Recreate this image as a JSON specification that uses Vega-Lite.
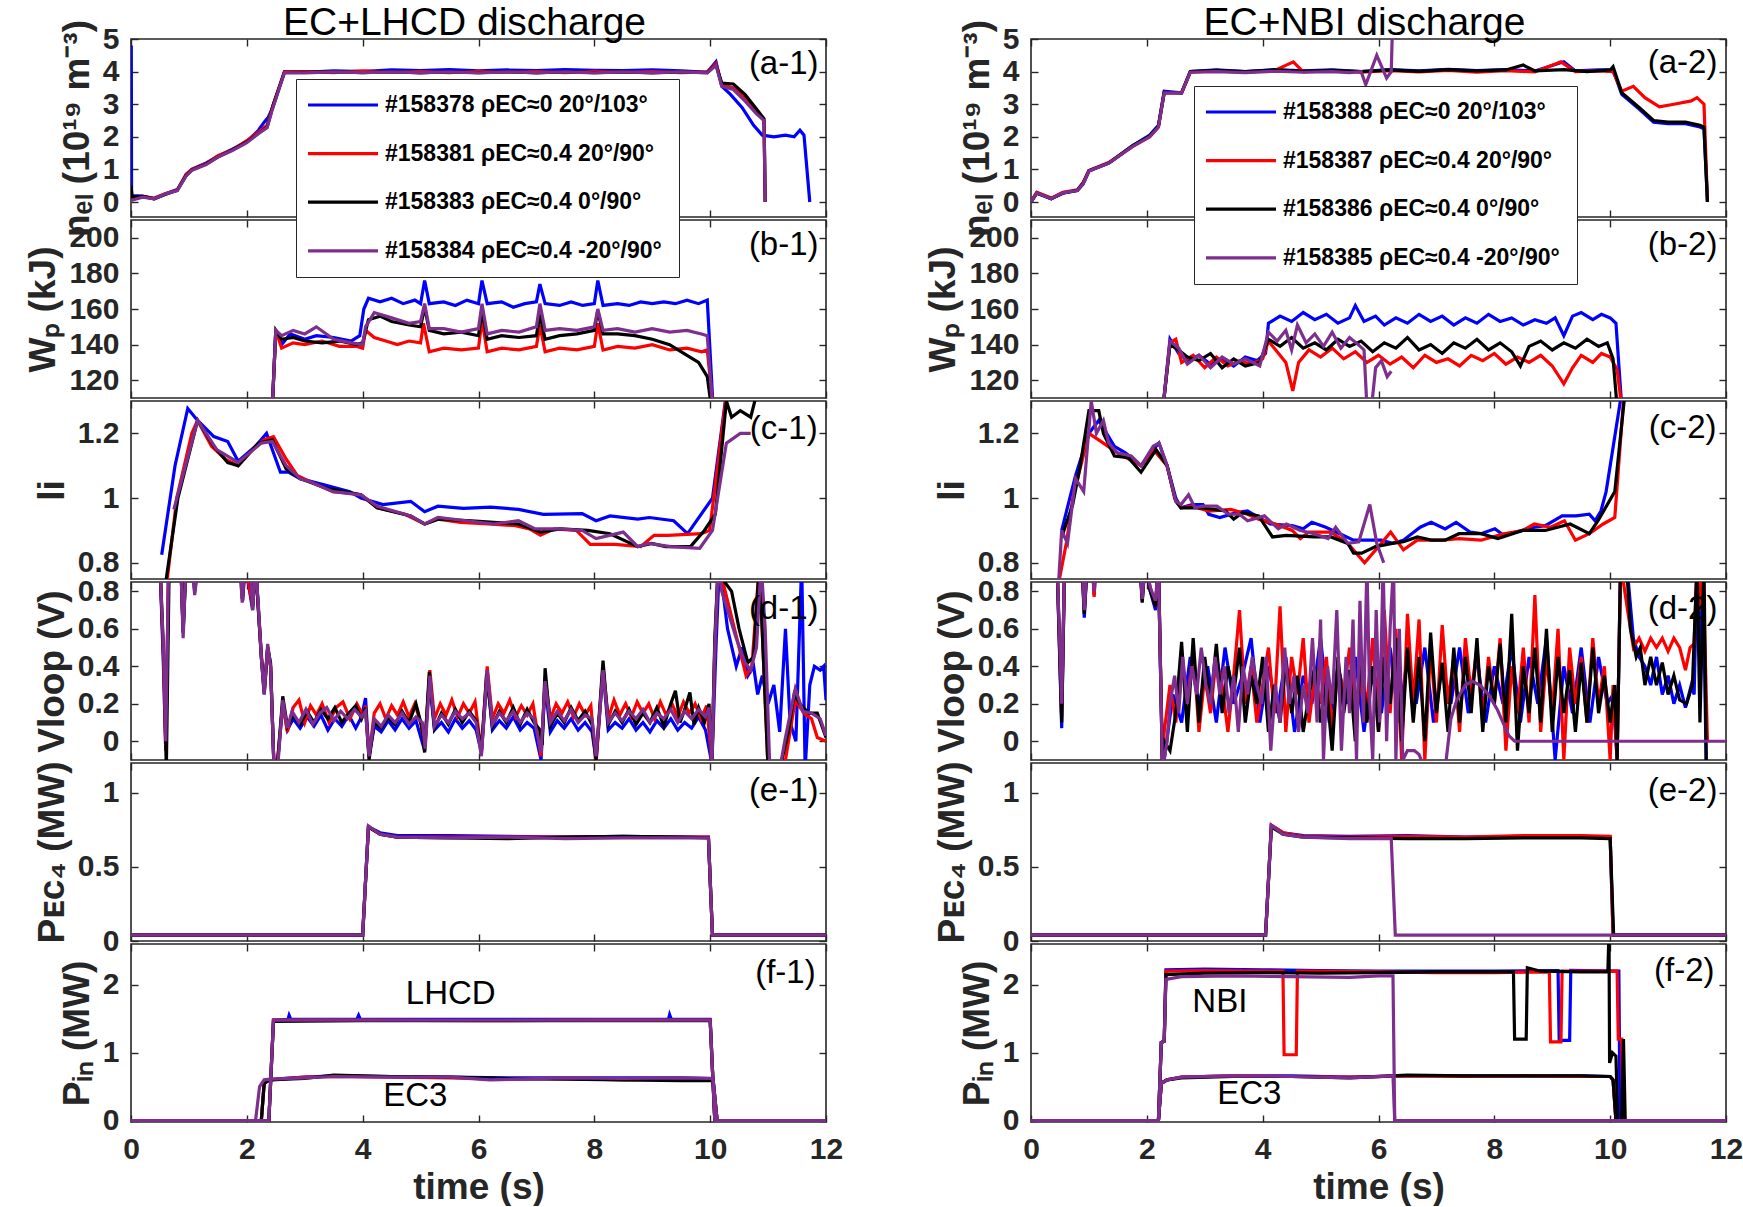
{
"$schema":"https://vega.github.io/schema/vega-lite/v6.json",
"background":"white",
"padding":{"left":24,"top":2,"right":5,"bottom":0},
"datasets":{
"a1":[
{"s":"a","t":0,"v":0.05},{"s":"a","t":0.005,"v":4.8},{"s":"a","t":0.01,"v":0.2},{"s":"a","t":0.2,"v":0.18},{"s":"a","t":0.4,"v":0.1},{"s":"a","t":0.6,"v":0.25},{"s":"a","t":0.8,"v":0.38},{"s":"a","t":0.95,"v":0.8},{"s":"a","t":1.05,"v":1},{"s":"a","t":1.3,"v":1.2},{"s":"a","t":1.5,"v":1.4},{"s":"a","t":1.75,"v":1.62},{"s":"a","t":2,"v":1.85},{"s":"a","t":2.2,"v":2.2},{"s":"a","t":2.3,"v":2.45},{"s":"a","t":2.37,"v":2.6},{"s":"a","t":2.45,"v":2.9},{"s":"a","t":2.65,"v":4},{"s":"a","t":3,"v":3.98},{"s":"a","t":3.5,"v":4.02},{"s":"a","t":4,"v":4},{"s":"a","t":4.5,"v":4.05},{"s":"a","t":5,"v":4.03},{"s":"a","t":5.5,"v":4.06},{"s":"a","t":6,"v":4.02},{"s":"a","t":6.5,"v":4.05},{"s":"a","t":7,"v":4.03},{"s":"a","t":7.5,"v":4.06},{"s":"a","t":8,"v":4.04},{"s":"a","t":8.5,"v":4.03},{"s":"a","t":9,"v":4.05},{"s":"a","t":9.5,"v":4.02},{"s":"a","t":9.95,"v":3.98},{"s":"a","t":10.1,"v":4.3},{"s":"a","t":10.2,"v":3.55},{"s":"a","t":10.35,"v":3.3},{"s":"a","t":10.55,"v":2.9},{"s":"a","t":10.75,"v":2.35},{"s":"a","t":10.9,"v":2.05},{"s":"a","t":11.1,"v":2},{"s":"a","t":11.3,"v":2.05},{"s":"a","t":11.45,"v":2},{"s":"a","t":11.55,"v":2.2},{"s":"a","t":11.62,"v":2.05},{"s":"a","t":11.72,"v":0},
{"s":"b","t":0,"v":0.1},{"s":"b","t":0.2,"v":0.17},{"s":"b","t":0.4,"v":0.12},{"s":"b","t":0.6,"v":0.26},{"s":"b","t":0.8,"v":0.37},{"s":"b","t":0.95,"v":0.85},{"s":"b","t":1.05,"v":1},{"s":"b","t":1.3,"v":1.18},{"s":"b","t":1.5,"v":1.42},{"s":"b","t":1.75,"v":1.6},{"s":"b","t":2,"v":1.88},{"s":"b","t":2.2,"v":2.15},{"s":"b","t":2.35,"v":2.35},{"s":"b","t":2.45,"v":2.95},{"s":"b","t":2.65,"v":4},{"s":"b","t":3,"v":4},{"s":"b","t":3.5,"v":3.97},{"s":"b","t":4,"v":4.02},{"s":"b","t":4.5,"v":3.98},{"s":"b","t":5,"v":4},{"s":"b","t":5.5,"v":3.97},{"s":"b","t":6,"v":4.01},{"s":"b","t":6.5,"v":3.98},{"s":"b","t":7,"v":4},{"s":"b","t":7.5,"v":3.97},{"s":"b","t":8,"v":4.01},{"s":"b","t":8.5,"v":3.98},{"s":"b","t":9,"v":4},{"s":"b","t":9.5,"v":3.97},{"s":"b","t":9.95,"v":3.99},{"s":"b","t":10.1,"v":4.25},{"s":"b","t":10.2,"v":3.6},{"s":"b","t":10.4,"v":3.5},{"s":"b","t":10.6,"v":3.2},{"s":"b","t":10.8,"v":2.8},{"s":"b","t":10.93,"v":2.5},{"s":"b","t":10.95,"v":0},
{"s":"c","t":0,"v":0.5},{"s":"c","t":0.02,"v":0.15},{"s":"c","t":0.2,"v":0.17},{"s":"c","t":0.4,"v":0.1},{"s":"c","t":0.6,"v":0.24},{"s":"c","t":0.8,"v":0.36},{"s":"c","t":0.95,"v":0.82},{"s":"c","t":1.05,"v":0.98},{"s":"c","t":1.3,"v":1.17},{"s":"c","t":1.5,"v":1.38},{"s":"c","t":1.75,"v":1.6},{"s":"c","t":2,"v":1.84},{"s":"c","t":2.2,"v":2.1},{"s":"c","t":2.35,"v":2.3},{"s":"c","t":2.45,"v":2.95},{"s":"c","t":2.65,"v":3.98},{"s":"c","t":3,"v":3.98},{"s":"c","t":3.5,"v":4},{"s":"c","t":4,"v":3.97},{"s":"c","t":4.5,"v":4},{"s":"c","t":5,"v":3.96},{"s":"c","t":5.5,"v":4},{"s":"c","t":6,"v":3.97},{"s":"c","t":6.5,"v":4},{"s":"c","t":7,"v":3.96},{"s":"c","t":7.5,"v":4},{"s":"c","t":8,"v":3.97},{"s":"c","t":8.5,"v":3.99},{"s":"c","t":9,"v":3.96},{"s":"c","t":9.5,"v":3.99},{"s":"c","t":9.95,"v":3.97},{"s":"c","t":10.1,"v":4.2},{"s":"c","t":10.2,"v":3.65},{"s":"c","t":10.4,"v":3.62},{"s":"c","t":10.6,"v":3.3},{"s":"c","t":10.8,"v":2.85},{"s":"c","t":10.93,"v":2.55},{"s":"c","t":10.95,"v":0},
{"s":"d","t":0,"v":0.05},{"s":"d","t":0.2,"v":0.15},{"s":"d","t":0.4,"v":0.1},{"s":"d","t":0.6,"v":0.25},{"s":"d","t":0.8,"v":0.35},{"s":"d","t":0.95,"v":0.8},{"s":"d","t":1.05,"v":0.97},{"s":"d","t":1.3,"v":1.15},{"s":"d","t":1.5,"v":1.38},{"s":"d","t":1.75,"v":1.58},{"s":"d","t":2,"v":1.82},{"s":"d","t":2.2,"v":2.1},{"s":"d","t":2.35,"v":2.28},{"s":"d","t":2.45,"v":2.9},{"s":"d","t":2.65,"v":3.97},{"s":"d","t":3,"v":3.96},{"s":"d","t":3.5,"v":3.99},{"s":"d","t":4,"v":3.97},{"s":"d","t":4.5,"v":3.99},{"s":"d","t":5,"v":3.97},{"s":"d","t":5.5,"v":3.99},{"s":"d","t":6,"v":3.96},{"s":"d","t":6.5,"v":3.99},{"s":"d","t":7,"v":3.97},{"s":"d","t":7.5,"v":3.99},{"s":"d","t":8,"v":3.96},{"s":"d","t":8.5,"v":3.99},{"s":"d","t":9,"v":3.97},{"s":"d","t":9.5,"v":3.99},{"s":"d","t":9.95,"v":3.96},{"s":"d","t":10.1,"v":4.2},{"s":"d","t":10.2,"v":3.55},{"s":"d","t":10.4,"v":3.45},{"s":"d","t":10.6,"v":3.1},{"s":"d","t":10.8,"v":2.7},{"s":"d","t":10.93,"v":2.5},{"s":"d","t":10.95,"v":0}],
"a2":[
{"s":"a","t":0,"v":0},{"s":"a","t":0.1,"v":0.28},{"s":"a","t":0.35,"v":0.1},{"s":"a","t":0.55,"v":0.28},{"s":"a","t":0.8,"v":0.35},{"s":"a","t":0.9,"v":0.55},{"s":"a","t":1,"v":0.95},{"s":"a","t":1.35,"v":1.2},{"s":"a","t":1.75,"v":1.72},{"s":"a","t":2.05,"v":2.05},{"s":"a","t":2.2,"v":2.35},{"s":"a","t":2.3,"v":3.4},{"s":"a","t":2.6,"v":3.35},{"s":"a","t":2.75,"v":4},{"s":"a","t":3.2,"v":4.05},{"s":"a","t":3.7,"v":4},{"s":"a","t":4.2,"v":4.06},{"s":"a","t":4.7,"v":4.02},{"s":"a","t":5.2,"v":4.05},{"s":"a","t":5.7,"v":4},{"s":"a","t":6.2,"v":4.06},{"s":"a","t":6.7,"v":4.02},{"s":"a","t":7.2,"v":4.07},{"s":"a","t":7.7,"v":4.03},{"s":"a","t":8.2,"v":4.06},{"s":"a","t":8.7,"v":4.02},{"s":"a","t":9.2,"v":4.3},{"s":"a","t":9.4,"v":4.02},{"s":"a","t":9.8,"v":4.05},{"s":"a","t":10.05,"v":4.05},{"s":"a","t":10.2,"v":3.3},{"s":"a","t":10.5,"v":2.85},{"s":"a","t":10.75,"v":2.45},{"s":"a","t":11,"v":2.4},{"s":"a","t":11.3,"v":2.4},{"s":"a","t":11.55,"v":2.3},{"s":"a","t":11.62,"v":2.25},{"s":"a","t":11.68,"v":0},
{"s":"b","t":0,"v":0.02},{"s":"b","t":0.1,"v":0.3},{"s":"b","t":0.35,"v":0.12},{"s":"b","t":0.55,"v":0.3},{"s":"b","t":0.8,"v":0.37},{"s":"b","t":0.9,"v":0.6},{"s":"b","t":1,"v":0.97},{"s":"b","t":1.35,"v":1.22},{"s":"b","t":1.75,"v":1.7},{"s":"b","t":2.05,"v":2},{"s":"b","t":2.2,"v":2.3},{"s":"b","t":2.3,"v":3.35},{"s":"b","t":2.6,"v":3.35},{"s":"b","t":2.75,"v":3.98},{"s":"b","t":3.2,"v":4.02},{"s":"b","t":3.7,"v":3.98},{"s":"b","t":4.2,"v":4.03},{"s":"b","t":4.53,"v":4.3},{"s":"b","t":4.7,"v":3.99},{"s":"b","t":5.2,"v":4.03},{"s":"b","t":5.7,"v":3.98},{"s":"b","t":6.2,"v":4.03},{"s":"b","t":6.7,"v":3.99},{"s":"b","t":7.2,"v":4.04},{"s":"b","t":7.7,"v":3.98},{"s":"b","t":8.2,"v":4.03},{"s":"b","t":8.7,"v":3.99},{"s":"b","t":9.15,"v":4.3},{"s":"b","t":9.4,"v":4},{"s":"b","t":9.8,"v":4.02},{"s":"b","t":10.05,"v":4},{"s":"b","t":10.2,"v":3.4},{"s":"b","t":10.4,"v":3.55},{"s":"b","t":10.6,"v":3.2},{"s":"b","t":10.85,"v":2.92},{"s":"b","t":11.1,"v":3},{"s":"b","t":11.4,"v":3.1},{"s":"b","t":11.5,"v":3.2},{"s":"b","t":11.62,"v":3},{"s":"b","t":11.68,"v":0},
{"s":"c","t":0,"v":0},{"s":"c","t":0.1,"v":0.27},{"s":"c","t":0.35,"v":0.1},{"s":"c","t":0.55,"v":0.27},{"s":"c","t":0.8,"v":0.36},{"s":"c","t":0.9,"v":0.58},{"s":"c","t":1,"v":0.96},{"s":"c","t":1.35,"v":1.2},{"s":"c","t":1.75,"v":1.72},{"s":"c","t":2.05,"v":2.02},{"s":"c","t":2.2,"v":2.32},{"s":"c","t":2.3,"v":3.36},{"s":"c","t":2.6,"v":3.35},{"s":"c","t":2.75,"v":4},{"s":"c","t":3.2,"v":4.04},{"s":"c","t":3.7,"v":4},{"s":"c","t":4.2,"v":4.05},{"s":"c","t":4.7,"v":4.01},{"s":"c","t":5.2,"v":4.04},{"s":"c","t":5.7,"v":4},{"s":"c","t":6.2,"v":4.05},{"s":"c","t":6.7,"v":4.01},{"s":"c","t":7.2,"v":4.06},{"s":"c","t":7.7,"v":4.02},{"s":"c","t":8.2,"v":4.05},{"s":"c","t":8.5,"v":4.2},{"s":"c","t":8.7,"v":4.02},{"s":"c","t":9.2,"v":4.06},{"s":"c","t":9.6,"v":4},{"s":"c","t":10,"v":4.05},{"s":"c","t":10.05,"v":4.15},{"s":"c","t":10.2,"v":3.35},{"s":"c","t":10.5,"v":2.9},{"s":"c","t":10.75,"v":2.5},{"s":"c","t":11,"v":2.45},{"s":"c","t":11.3,"v":2.45},{"s":"c","t":11.55,"v":2.35},{"s":"c","t":11.62,"v":2.3},{"s":"c","t":11.68,"v":0},
{"s":"d","t":0,"v":0},{"s":"d","t":0.1,"v":0.28},{"s":"d","t":0.35,"v":0.1},{"s":"d","t":0.55,"v":0.28},{"s":"d","t":0.8,"v":0.35},{"s":"d","t":0.9,"v":0.56},{"s":"d","t":1,"v":0.95},{"s":"d","t":1.35,"v":1.2},{"s":"d","t":1.75,"v":1.7},{"s":"d","t":2.05,"v":2},{"s":"d","t":2.2,"v":2.3},{"s":"d","t":2.3,"v":3.35},{"s":"d","t":2.6,"v":3.35},{"s":"d","t":2.75,"v":3.98},{"s":"d","t":3.2,"v":4},{"s":"d","t":3.7,"v":3.97},{"s":"d","t":4.2,"v":4.01},{"s":"d","t":4.7,"v":3.98},{"s":"d","t":5.2,"v":4},{"s":"d","t":5.5,"v":3.97},{"s":"d","t":5.7,"v":4},{"s":"d","t":5.78,"v":3.6},{"s":"d","t":5.97,"v":4.5},{"s":"d","t":6.14,"v":3.8},{"s":"d","t":6.22,"v":4},{"s":"d","t":6.24,"v":5.3}],
"b1":[
{"s":"a","t":2.44,"v":105},{"s":"a","t":2.5,"v":148},{"s":"a","t":2.6,"v":140},{"s":"a","t":2.75,"v":146},{"s":"a","t":3,"v":143},{"s":"a","t":3.2,"v":145},{"s":"a","t":3.5,"v":144},{"s":"a","t":3.8,"v":142},{"s":"a","t":3.95,"v":145},{"s":"a","t":4.02,"v":160},{"s":"a","t":4.1,"v":166},{"s":"a","t":4.3,"v":164},{"s":"a","t":4.5,"v":166},{"s":"a","t":4.7,"v":163},{"s":"a","t":4.9,"v":165},{"s":"a","t":5,"v":163},{"s":"a","t":5.07,"v":176},{"s":"a","t":5.15,"v":163},{"s":"a","t":5.4,"v":164},{"s":"a","t":5.6,"v":162},{"s":"a","t":5.8,"v":165},{"s":"a","t":6,"v":163},{"s":"a","t":6.06,"v":176},{"s":"a","t":6.15,"v":163},{"s":"a","t":6.4,"v":164},{"s":"a","t":6.6,"v":161},{"s":"a","t":6.8,"v":163},{"s":"a","t":7,"v":164},{"s":"a","t":7.06,"v":174},{"s":"a","t":7.15,"v":163},{"s":"a","t":7.4,"v":162},{"s":"a","t":7.6,"v":164},{"s":"a","t":7.8,"v":162},{"s":"a","t":8,"v":163},{"s":"a","t":8.06,"v":176},{"s":"a","t":8.15,"v":162},{"s":"a","t":8.4,"v":163},{"s":"a","t":8.6,"v":162},{"s":"a","t":8.8,"v":164},{"s":"a","t":9,"v":163},{"s":"a","t":9.2,"v":164},{"s":"a","t":9.4,"v":163},{"s":"a","t":9.6,"v":165},{"s":"a","t":9.8,"v":163},{"s":"a","t":9.95,"v":165},{"s":"a","t":10.05,"v":105},
{"s":"b","t":2.44,"v":105},{"s":"b","t":2.5,"v":148},{"s":"b","t":2.6,"v":138},{"s":"b","t":2.8,"v":141},{"s":"b","t":3,"v":140},{"s":"b","t":3.3,"v":142},{"s":"b","t":3.6,"v":139},{"s":"b","t":3.9,"v":139},{"s":"b","t":4,"v":138},{"s":"b","t":4.05,"v":148},{"s":"b","t":4.2,"v":144},{"s":"b","t":4.4,"v":142},{"s":"b","t":4.6,"v":140},{"s":"b","t":4.8,"v":142},{"s":"b","t":5,"v":141},{"s":"b","t":5.05,"v":152},{"s":"b","t":5.15,"v":136},{"s":"b","t":5.4,"v":138},{"s":"b","t":5.7,"v":137},{"s":"b","t":6,"v":138},{"s":"b","t":6.06,"v":154},{"s":"b","t":6.15,"v":136},{"s":"b","t":6.4,"v":138},{"s":"b","t":6.7,"v":137},{"s":"b","t":7,"v":139},{"s":"b","t":7.06,"v":151},{"s":"b","t":7.15,"v":136},{"s":"b","t":7.4,"v":138},{"s":"b","t":7.7,"v":137},{"s":"b","t":8,"v":139},{"s":"b","t":8.06,"v":152},{"s":"b","t":8.15,"v":137},{"s":"b","t":8.4,"v":139},{"s":"b","t":8.7,"v":138},{"s":"b","t":9,"v":140},{"s":"b","t":9.3,"v":137},{"s":"b","t":9.6,"v":138},{"s":"b","t":9.85,"v":136},{"s":"b","t":9.95,"v":137},{"s":"b","t":10.05,"v":105},
{"s":"c","t":2.44,"v":105},{"s":"c","t":2.5,"v":148},{"s":"c","t":2.6,"v":143},{"s":"c","t":2.8,"v":144},{"s":"c","t":3,"v":142},{"s":"c","t":3.3,"v":141},{"s":"c","t":3.6,"v":142},{"s":"c","t":3.9,"v":140},{"s":"c","t":4,"v":141},{"s":"c","t":4.1,"v":154},{"s":"c","t":4.3,"v":156},{"s":"c","t":4.5,"v":153},{"s":"c","t":4.8,"v":151},{"s":"c","t":5,"v":150},{"s":"c","t":5.07,"v":161},{"s":"c","t":5.15,"v":148},{"s":"c","t":5.4,"v":146},{"s":"c","t":5.7,"v":147},{"s":"c","t":6,"v":145},{"s":"c","t":6.06,"v":159},{"s":"c","t":6.15,"v":143},{"s":"c","t":6.4,"v":145},{"s":"c","t":6.7,"v":144},{"s":"c","t":7,"v":145},{"s":"c","t":7.06,"v":157},{"s":"c","t":7.15,"v":143},{"s":"c","t":7.4,"v":145},{"s":"c","t":7.7,"v":146},{"s":"c","t":8,"v":148},{"s":"c","t":8.06,"v":159},{"s":"c","t":8.15,"v":146},{"s":"c","t":8.4,"v":146},{"s":"c","t":8.7,"v":145},{"s":"c","t":9,"v":143},{"s":"c","t":9.3,"v":140},{"s":"c","t":9.6,"v":134},{"s":"c","t":9.8,"v":130},{"s":"c","t":9.95,"v":122},{"s":"c","t":10.02,"v":105},
{"s":"d","t":2.44,"v":105},{"s":"d","t":2.5,"v":148},{"s":"d","t":2.6,"v":145},{"s":"d","t":2.8,"v":148},{"s":"d","t":3,"v":146},{"s":"d","t":3.2,"v":150},{"s":"d","t":3.5,"v":143},{"s":"d","t":3.8,"v":141},{"s":"d","t":4,"v":140},{"s":"d","t":4.05,"v":150},{"s":"d","t":4.2,"v":158},{"s":"d","t":4.5,"v":155},{"s":"d","t":4.8,"v":152},{"s":"d","t":5,"v":153},{"s":"d","t":5.07,"v":163},{"s":"d","t":5.15,"v":149},{"s":"d","t":5.4,"v":149},{"s":"d","t":5.7,"v":147},{"s":"d","t":6,"v":149},{"s":"d","t":6.06,"v":163},{"s":"d","t":6.15,"v":146},{"s":"d","t":6.4,"v":148},{"s":"d","t":6.7,"v":147},{"s":"d","t":7,"v":150},{"s":"d","t":7.06,"v":163},{"s":"d","t":7.15,"v":148},{"s":"d","t":7.4,"v":149},{"s":"d","t":7.7,"v":148},{"s":"d","t":8,"v":150},{"s":"d","t":8.06,"v":160},{"s":"d","t":8.15,"v":148},{"s":"d","t":8.4,"v":149},{"s":"d","t":8.7,"v":147},{"s":"d","t":9,"v":149},{"s":"d","t":9.3,"v":147},{"s":"d","t":9.6,"v":148},{"s":"d","t":9.85,"v":146},{"s":"d","t":9.95,"v":145},{"s":"d","t":10.04,"v":105}],
"b2":[
{"s":"a","t":2.28,"v":105},{"s":"a","t":2.4,"v":143},{"s":"a","t":2.55,"v":135},{"s":"a","t":2.7,"v":131},{"s":"a","t":2.9,"v":134},{"s":"a","t":3.1,"v":129},{"s":"a","t":3.3,"v":132},{"s":"a","t":3.5,"v":128},{"s":"a","t":3.7,"v":133},{"s":"a","t":3.9,"v":131},{"s":"a","t":4.05,"v":135},{"s":"a","t":4.1,"v":152},{"s":"a","t":4.3,"v":156},{"s":"a","t":4.5,"v":153},{"s":"a","t":4.7,"v":158},{"s":"a","t":4.9,"v":154},{"s":"a","t":5.1,"v":157},{"s":"a","t":5.3,"v":152},{"s":"a","t":5.5,"v":155},{"s":"a","t":5.6,"v":162},{"s":"a","t":5.75,"v":153},{"s":"a","t":5.95,"v":156},{"s":"a","t":6.1,"v":151},{"s":"a","t":6.3,"v":155},{"s":"a","t":6.5,"v":152},{"s":"a","t":6.7,"v":157},{"s":"a","t":6.9,"v":153},{"s":"a","t":7.1,"v":156},{"s":"a","t":7.3,"v":151},{"s":"a","t":7.5,"v":155},{"s":"a","t":7.7,"v":152},{"s":"a","t":7.9,"v":157},{"s":"a","t":8.1,"v":153},{"s":"a","t":8.3,"v":155},{"s":"a","t":8.5,"v":151},{"s":"a","t":8.7,"v":154},{"s":"a","t":8.9,"v":152},{"s":"a","t":9.05,"v":155},{"s":"a","t":9.2,"v":145},{"s":"a","t":9.35,"v":156},{"s":"a","t":9.5,"v":158},{"s":"a","t":9.7,"v":154},{"s":"a","t":9.85,"v":157},{"s":"a","t":10,"v":155},{"s":"a","t":10.1,"v":152},{"s":"a","t":10.2,"v":105},
{"s":"b","t":2.28,"v":105},{"s":"b","t":2.4,"v":141},{"s":"b","t":2.5,"v":143},{"s":"b","t":2.6,"v":130},{"s":"b","t":2.8,"v":134},{"s":"b","t":3,"v":127},{"s":"b","t":3.2,"v":133},{"s":"b","t":3.4,"v":128},{"s":"b","t":3.6,"v":131},{"s":"b","t":3.8,"v":129},{"s":"b","t":4,"v":132},{"s":"b","t":4.1,"v":142},{"s":"b","t":4.25,"v":136},{"s":"b","t":4.4,"v":130},{"s":"b","t":4.52,"v":114},{"s":"b","t":4.62,"v":130},{"s":"b","t":4.8,"v":137},{"s":"b","t":5,"v":133},{"s":"b","t":5.2,"v":138},{"s":"b","t":5.4,"v":132},{"s":"b","t":5.6,"v":136},{"s":"b","t":5.8,"v":130},{"s":"b","t":6,"v":134},{"s":"b","t":6.2,"v":129},{"s":"b","t":6.4,"v":133},{"s":"b","t":6.6,"v":127},{"s":"b","t":6.8,"v":134},{"s":"b","t":7,"v":130},{"s":"b","t":7.2,"v":132},{"s":"b","t":7.4,"v":128},{"s":"b","t":7.6,"v":134},{"s":"b","t":7.8,"v":131},{"s":"b","t":8,"v":135},{"s":"b","t":8.2,"v":129},{"s":"b","t":8.4,"v":133},{"s":"b","t":8.6,"v":130},{"s":"b","t":8.8,"v":134},{"s":"b","t":9,"v":128},{"s":"b","t":9.2,"v":118},{"s":"b","t":9.35,"v":127},{"s":"b","t":9.5,"v":134},{"s":"b","t":9.7,"v":130},{"s":"b","t":9.85,"v":135},{"s":"b","t":10,"v":133},{"s":"b","t":10.12,"v":126},{"s":"b","t":10.2,"v":105},
{"s":"c","t":2.28,"v":105},{"s":"c","t":2.4,"v":140},{"s":"c","t":2.55,"v":137},{"s":"c","t":2.7,"v":133},{"s":"c","t":2.9,"v":131},{"s":"c","t":3.1,"v":135},{"s":"c","t":3.3,"v":127},{"s":"c","t":3.5,"v":132},{"s":"c","t":3.7,"v":128},{"s":"c","t":3.95,"v":130},{"s":"c","t":4.1,"v":143},{"s":"c","t":4.3,"v":139},{"s":"c","t":4.5,"v":144},{"s":"c","t":4.7,"v":138},{"s":"c","t":4.9,"v":141},{"s":"c","t":5.1,"v":137},{"s":"c","t":5.3,"v":143},{"s":"c","t":5.5,"v":139},{"s":"c","t":5.7,"v":142},{"s":"c","t":5.9,"v":136},{"s":"c","t":6.1,"v":141},{"s":"c","t":6.3,"v":138},{"s":"c","t":6.5,"v":144},{"s":"c","t":6.7,"v":137},{"s":"c","t":6.9,"v":140},{"s":"c","t":7.1,"v":135},{"s":"c","t":7.3,"v":141},{"s":"c","t":7.5,"v":138},{"s":"c","t":7.7,"v":143},{"s":"c","t":7.9,"v":137},{"s":"c","t":8.1,"v":141},{"s":"c","t":8.3,"v":136},{"s":"c","t":8.45,"v":128},{"s":"c","t":8.6,"v":139},{"s":"c","t":8.8,"v":142},{"s":"c","t":9,"v":137},{"s":"c","t":9.2,"v":141},{"s":"c","t":9.4,"v":138},{"s":"c","t":9.6,"v":143},{"s":"c","t":9.8,"v":139},{"s":"c","t":9.95,"v":141},{"s":"c","t":10.05,"v":132},{"s":"c","t":10.12,"v":105},
{"s":"d","t":2.28,"v":105},{"s":"d","t":2.4,"v":142},{"s":"d","t":2.55,"v":138},{"s":"d","t":2.7,"v":129},{"s":"d","t":2.9,"v":134},{"s":"d","t":3.1,"v":127},{"s":"d","t":3.3,"v":133},{"s":"d","t":3.5,"v":129},{"s":"d","t":3.7,"v":132},{"s":"d","t":3.95,"v":128},{"s":"d","t":4.1,"v":147},{"s":"d","t":4.25,"v":142},{"s":"d","t":4.4,"v":148},{"s":"d","t":4.5,"v":137},{"s":"d","t":4.6,"v":151},{"s":"d","t":4.75,"v":141},{"s":"d","t":4.9,"v":146},{"s":"d","t":5.05,"v":139},{"s":"d","t":5.2,"v":147},{"s":"d","t":5.35,"v":138},{"s":"d","t":5.5,"v":144},{"s":"d","t":5.65,"v":140},{"s":"d","t":5.75,"v":137},{"s":"d","t":5.8,"v":105},{"s":"d","t":5.88,"v":105},{"s":"d","t":5.95,"v":127},{"s":"d","t":6.05,"v":131},{"s":"d","t":6.15,"v":122},{"s":"d","t":6.22,"v":125}],
"c1":[
{"s":"a","t":0.53,"v":0.825},{"s":"a","t":0.76,"v":1.1},{"s":"a","t":0.98,"v":1.277},{"s":"a","t":1.15,"v":1.24},{"s":"a","t":1.43,"v":1.19},{"s":"a","t":1.67,"v":1.175},{"s":"a","t":1.85,"v":1.114},{"s":"a","t":2.15,"v":1.16},{"s":"a","t":2.34,"v":1.2},{"s":"a","t":2.58,"v":1.08},{"s":"a","t":2.72,"v":1.08},{"s":"a","t":2.92,"v":1.06},{"s":"a","t":3.35,"v":1.04},{"s":"a","t":3.78,"v":1.02},{"s":"a","t":3.97,"v":1},{"s":"a","t":4.35,"v":0.98},{"s":"a","t":4.83,"v":0.99},{"s":"a","t":5.07,"v":0.958},{"s":"a","t":5.3,"v":0.975},{"s":"a","t":5.74,"v":0.968},{"s":"a","t":6.21,"v":0.972},{"s":"a","t":6.69,"v":0.965},{"s":"a","t":7.12,"v":0.95},{"s":"a","t":7.79,"v":0.952},{"s":"a","t":8.03,"v":0.93},{"s":"a","t":8.27,"v":0.945},{"s":"a","t":8.75,"v":0.935},{"s":"a","t":8.95,"v":0.94},{"s":"a","t":9.37,"v":0.93},{"s":"a","t":9.61,"v":0.89},{"s":"a","t":10.04,"v":1},{"s":"a","t":10.3,"v":1.35},
{"s":"b","t":0.62,"v":0.74},{"s":"b","t":0.79,"v":1},{"s":"b","t":1.05,"v":1.2},{"s":"b","t":1.15,"v":1.24},{"s":"b","t":1.39,"v":1.16},{"s":"b","t":1.63,"v":1.12},{"s":"b","t":1.85,"v":1.1},{"s":"b","t":2.1,"v":1.15},{"s":"b","t":2.29,"v":1.18},{"s":"b","t":2.46,"v":1.19},{"s":"b","t":2.68,"v":1.12},{"s":"b","t":2.87,"v":1.07},{"s":"b","t":3.1,"v":1.05},{"s":"b","t":3.49,"v":1.02},{"s":"b","t":3.78,"v":1.015},{"s":"b","t":3.97,"v":1.01},{"s":"b","t":4.25,"v":0.97},{"s":"b","t":4.73,"v":0.95},{"s":"b","t":5.07,"v":0.92},{"s":"b","t":5.3,"v":0.935},{"s":"b","t":5.69,"v":0.925},{"s":"b","t":6.16,"v":0.92},{"s":"b","t":6.64,"v":0.915},{"s":"b","t":6.88,"v":0.905},{"s":"b","t":7.07,"v":0.885},{"s":"b","t":7.31,"v":0.905},{"s":"b","t":7.69,"v":0.9},{"s":"b","t":7.93,"v":0.857},{"s":"b","t":8.36,"v":0.857},{"s":"b","t":8.8,"v":0.85},{"s":"b","t":9.03,"v":0.885},{"s":"b","t":9.27,"v":0.885},{"s":"b","t":9.85,"v":0.89},{"s":"b","t":9.99,"v":0.9},{"s":"b","t":10.13,"v":1.1},{"s":"b","t":10.3,"v":1.35},
{"s":"c","t":0.6,"v":0.74},{"s":"c","t":0.81,"v":1},{"s":"c","t":1.15,"v":1.24},{"s":"c","t":1.43,"v":1.16},{"s":"c","t":1.67,"v":1.11},{"s":"c","t":1.85,"v":1.1},{"s":"c","t":2.2,"v":1.17},{"s":"c","t":2.44,"v":1.18},{"s":"c","t":2.68,"v":1.09},{"s":"c","t":2.92,"v":1.06},{"s":"c","t":3.39,"v":1.03},{"s":"c","t":3.97,"v":1.01},{"s":"c","t":4.25,"v":0.97},{"s":"c","t":4.83,"v":0.945},{"s":"c","t":5.07,"v":0.92},{"s":"c","t":5.3,"v":0.935},{"s":"c","t":5.88,"v":0.93},{"s":"c","t":6.26,"v":0.925},{"s":"c","t":6.69,"v":0.92},{"s":"c","t":7.07,"v":0.895},{"s":"c","t":7.41,"v":0.905},{"s":"c","t":7.89,"v":0.9},{"s":"c","t":8.27,"v":0.89},{"s":"c","t":8.75,"v":0.85},{"s":"c","t":8.99,"v":0.86},{"s":"c","t":9.23,"v":0.85},{"s":"c","t":9.66,"v":0.85},{"s":"c","t":9.9,"v":0.9},{"s":"c","t":10.09,"v":0.95},{"s":"c","t":10.28,"v":1.3},{"s":"c","t":10.37,"v":1.25},{"s":"c","t":10.52,"v":1.27},{"s":"c","t":10.7,"v":1.25},{"s":"c","t":10.8,"v":1.32},
{"s":"d","t":0.74,"v":0.965},{"s":"d","t":1.15,"v":1.24},{"s":"d","t":1.48,"v":1.15},{"s":"d","t":1.85,"v":1.11},{"s":"d","t":2.25,"v":1.17},{"s":"d","t":2.44,"v":1.175},{"s":"d","t":2.68,"v":1.1},{"s":"d","t":2.92,"v":1.06},{"s":"d","t":3.1,"v":1.05},{"s":"d","t":3.49,"v":1.02},{"s":"d","t":3.97,"v":1.01},{"s":"d","t":4.25,"v":0.975},{"s":"d","t":4.83,"v":0.945},{"s":"d","t":5.07,"v":0.92},{"s":"d","t":5.3,"v":0.94},{"s":"d","t":5.79,"v":0.93},{"s":"d","t":6.26,"v":0.92},{"s":"d","t":6.69,"v":0.93},{"s":"d","t":6.98,"v":0.905},{"s":"d","t":7.41,"v":0.905},{"s":"d","t":7.79,"v":0.9},{"s":"d","t":8.03,"v":0.875},{"s":"d","t":8.5,"v":0.895},{"s":"d","t":8.75,"v":0.85},{"s":"d","t":8.94,"v":0.86},{"s":"d","t":9.32,"v":0.85},{"s":"d","t":9.82,"v":0.845},{"s":"d","t":10.04,"v":0.9},{"s":"d","t":10.28,"v":1.17},{"s":"d","t":10.52,"v":1.2},{"s":"d","t":10.7,"v":1.2}],
"c2":[
{"s":"a","t":0.53,"v":0.9},{"s":"a","t":0.67,"v":1},{"s":"a","t":0.77,"v":1.07},{"s":"a","t":1,"v":1.2},{"s":"a","t":1.17,"v":1.24},{"s":"a","t":1.44,"v":1.16},{"s":"a","t":1.63,"v":1.14},{"s":"a","t":1.9,"v":1.1},{"s":"a","t":2.11,"v":1.15},{"s":"a","t":2.21,"v":1.17},{"s":"a","t":2.35,"v":1.1},{"s":"a","t":2.5,"v":1},{"s":"a","t":2.59,"v":0.97},{"s":"a","t":2.78,"v":0.98},{"s":"a","t":2.97,"v":0.98},{"s":"a","t":3.07,"v":0.95},{"s":"a","t":3.26,"v":0.94},{"s":"a","t":3.55,"v":0.955},{"s":"a","t":3.74,"v":0.96},{"s":"a","t":3.84,"v":0.95},{"s":"a","t":4.13,"v":0.92},{"s":"a","t":4.51,"v":0.915},{"s":"a","t":4.7,"v":0.905},{"s":"a","t":4.85,"v":0.925},{"s":"a","t":5.09,"v":0.91},{"s":"a","t":5.33,"v":0.89},{"s":"a","t":5.57,"v":0.87},{"s":"a","t":6.05,"v":0.87},{"s":"a","t":6.24,"v":0.86},{"s":"a","t":6.43,"v":0.87},{"s":"a","t":6.72,"v":0.91},{"s":"a","t":6.91,"v":0.925},{"s":"a","t":7.15,"v":0.905},{"s":"a","t":7.34,"v":0.925},{"s":"a","t":7.58,"v":0.895},{"s":"a","t":7.77,"v":0.89},{"s":"a","t":8.01,"v":0.905},{"s":"a","t":8.16,"v":0.885},{"s":"a","t":8.69,"v":0.91},{"s":"a","t":8.88,"v":0.915},{"s":"a","t":9.17,"v":0.945},{"s":"a","t":9.41,"v":0.945},{"s":"a","t":9.64,"v":0.95},{"s":"a","t":9.74,"v":0.93},{"s":"a","t":9.84,"v":0.96},{"s":"a","t":9.93,"v":1.02},{"s":"a","t":10.22,"v":1.35},
{"s":"b","t":0.48,"v":0.74},{"s":"b","t":0.62,"v":0.87},{"s":"b","t":0.72,"v":1},{"s":"b","t":1,"v":1.2},{"s":"b","t":1.25,"v":1.17},{"s":"b","t":1.49,"v":1.14},{"s":"b","t":1.9,"v":1.1},{"s":"b","t":2.11,"v":1.15},{"s":"b","t":2.35,"v":1.1},{"s":"b","t":2.48,"v":1},{"s":"b","t":2.59,"v":0.97},{"s":"b","t":2.78,"v":0.975},{"s":"b","t":3.07,"v":0.96},{"s":"b","t":3.45,"v":0.965},{"s":"b","t":3.74,"v":0.95},{"s":"b","t":3.93,"v":0.935},{"s":"b","t":4.22,"v":0.92},{"s":"b","t":4.51,"v":0.9},{"s":"b","t":4.65,"v":0.875},{"s":"b","t":4.8,"v":0.895},{"s":"b","t":5.18,"v":0.895},{"s":"b","t":5.47,"v":0.86},{"s":"b","t":5.76,"v":0.8},{"s":"b","t":6,"v":0.85},{"s":"b","t":6.21,"v":0.895},{"s":"b","t":6.43,"v":0.84},{"s":"b","t":6.67,"v":0.87},{"s":"b","t":7.1,"v":0.87},{"s":"b","t":7.39,"v":0.875},{"s":"b","t":7.77,"v":0.87},{"s":"b","t":8.16,"v":0.89},{"s":"b","t":8.49,"v":0.9},{"s":"b","t":8.69,"v":0.92},{"s":"b","t":8.97,"v":0.91},{"s":"b","t":9.21,"v":0.93},{"s":"b","t":9.4,"v":0.87},{"s":"b","t":9.64,"v":0.89},{"s":"b","t":9.88,"v":0.92},{"s":"b","t":10.08,"v":0.94},{"s":"b","t":10.25,"v":1.35},
{"s":"c","t":0.53,"v":0.88},{"s":"c","t":0.72,"v":0.98},{"s":"c","t":0.85,"v":1.1},{"s":"c","t":1,"v":1.27},{"s":"c","t":1.17,"v":1.27},{"s":"c","t":1.25,"v":1.2},{"s":"c","t":1.44,"v":1.13},{"s":"c","t":1.68,"v":1.125},{"s":"c","t":1.9,"v":1.08},{"s":"c","t":2.16,"v":1.15},{"s":"c","t":2.35,"v":1.1},{"s":"c","t":2.5,"v":0.99},{"s":"c","t":2.59,"v":0.97},{"s":"c","t":2.97,"v":0.97},{"s":"c","t":3.36,"v":0.96},{"s":"c","t":3.5,"v":0.935},{"s":"c","t":3.65,"v":0.955},{"s":"c","t":3.93,"v":0.945},{"s":"c","t":4.17,"v":0.88},{"s":"c","t":4.41,"v":0.885},{"s":"c","t":4.89,"v":0.88},{"s":"c","t":5.18,"v":0.88},{"s":"c","t":5.47,"v":0.86},{"s":"c","t":5.57,"v":0.83},{"s":"c","t":5.71,"v":0.83},{"s":"c","t":5.95,"v":0.85},{"s":"c","t":6.24,"v":0.86},{"s":"c","t":6.43,"v":0.865},{"s":"c","t":6.67,"v":0.88},{"s":"c","t":6.91,"v":0.87},{"s":"c","t":7.15,"v":0.87},{"s":"c","t":7.39,"v":0.89},{"s":"c","t":7.77,"v":0.89},{"s":"c","t":8.06,"v":0.875},{"s":"c","t":8.49,"v":0.9},{"s":"c","t":8.88,"v":0.9},{"s":"c","t":9.31,"v":0.92},{"s":"c","t":9.64,"v":0.89},{"s":"c","t":9.79,"v":0.93},{"s":"c","t":10.08,"v":1.02},{"s":"c","t":10.27,"v":1.35},
{"s":"d","t":0.48,"v":0.75},{"s":"d","t":0.53,"v":0.9},{"s":"d","t":0.63,"v":0.86},{"s":"d","t":0.77,"v":1.06},{"s":"d","t":0.91,"v":1.02},{"s":"d","t":1.04,"v":1.3},{"s":"d","t":1.13,"v":1.2},{"s":"d","t":1.25,"v":1.24},{"s":"d","t":1.34,"v":1.17},{"s":"d","t":1.49,"v":1.14},{"s":"d","t":1.73,"v":1.13},{"s":"d","t":1.9,"v":1.1},{"s":"d","t":2.11,"v":1.16},{"s":"d","t":2.21,"v":1.17},{"s":"d","t":2.35,"v":1.1},{"s":"d","t":2.5,"v":0.99},{"s":"d","t":2.59,"v":0.98},{"s":"d","t":2.72,"v":1.01},{"s":"d","t":2.83,"v":0.97},{"s":"d","t":2.97,"v":0.975},{"s":"d","t":3.21,"v":0.975},{"s":"d","t":3.41,"v":0.95},{"s":"d","t":3.6,"v":0.95},{"s":"d","t":3.74,"v":0.93},{"s":"d","t":4.03,"v":0.945},{"s":"d","t":4.27,"v":0.905},{"s":"d","t":4.41,"v":0.92},{"s":"d","t":4.65,"v":0.9},{"s":"d","t":4.89,"v":0.89},{"s":"d","t":5.13,"v":0.875},{"s":"d","t":5.26,"v":0.91},{"s":"d","t":5.47,"v":0.86},{"s":"d","t":5.66,"v":0.865},{"s":"d","t":5.85,"v":0.98},{"s":"d","t":5.97,"v":0.86},{"s":"d","t":6.09,"v":0.8}],
"d1":[
{"s":"a","t":0.5,"v":0.95},{"s":"a","t":0.56,"v":0.4},{"s":"a","t":0.6,"v":-0.05},{"s":"a","t":0.65,"v":0.95},{"s":"a","t":0.86,"v":0.95},{"s":"a","t":0.9,"v":0.58},{"s":"a","t":0.95,"v":0.95},{"s":"a","t":1.9,"v":0.95},{"s":"a","t":1.93,"v":0.75},{"s":"a","t":1.97,"v":0.95},{"s":"a","t":2.1,"v":0.7},{"s":"a","t":2.15,"v":0.95},{"s":"a","t":2.2,"v":0.7},{"s":"a","t":2.25,"v":0.45},{"s":"a","t":2.3,"v":0.25},{"s":"a","t":2.36,"v":0.5},{"s":"a","t":2.41,"v":0.4},{"s":"a","t":2.47,"v":-0.15},{"s":"a","t":2.53,"v":-0.12},{"s":"a","t":2.62,"v":0.2},{"s":"a","t":2.7,"v":0.06},{"s":"a","t":2.8,"v":0.12},{"s":"a","t":2.92,"v":0.07},{"s":"a","t":3.04,"v":0.13},{"s":"a","t":3.16,"v":0.08},{"s":"a","t":3.28,"v":0.14},{"s":"a","t":3.4,"v":0.06},{"s":"a","t":3.52,"v":0.12},{"s":"a","t":3.64,"v":0.08},{"s":"a","t":3.76,"v":0.14},{"s":"a","t":3.88,"v":0.07},{"s":"a","t":3.98,"v":0.13},{"s":"a","t":4.05,"v":0.23},{"s":"a","t":4.11,"v":-0.08},{"s":"a","t":4.2,"v":0.08},{"s":"a","t":4.32,"v":0.05},{"s":"a","t":4.44,"v":0.11},{"s":"a","t":4.56,"v":0.06},{"s":"a","t":4.68,"v":0.12},{"s":"a","t":4.8,"v":0.07},{"s":"a","t":4.92,"v":0.11},{"s":"a","t":5.07,"v":-0.05},{"s":"a","t":5.15,"v":0.33},{"s":"a","t":5.24,"v":0.06},{"s":"a","t":5.36,"v":0.1},{"s":"a","t":5.48,"v":0.05},{"s":"a","t":5.6,"v":0.12},{"s":"a","t":5.72,"v":0.07},{"s":"a","t":5.84,"v":0.11},{"s":"a","t":5.96,"v":0.06},{"s":"a","t":6.05,"v":-0.06},{"s":"a","t":6.15,"v":0.35},{"s":"a","t":6.24,"v":0.06},{"s":"a","t":6.36,"v":0.11},{"s":"a","t":6.48,"v":0.07},{"s":"a","t":6.6,"v":0.13},{"s":"a","t":6.72,"v":0.06},{"s":"a","t":6.84,"v":0.1},{"s":"a","t":6.96,"v":0.07},{"s":"a","t":7.08,"v":-0.1},{"s":"a","t":7.15,"v":0.3},{"s":"a","t":7.24,"v":0.05},{"s":"a","t":7.36,"v":0.11},{"s":"a","t":7.48,"v":0.07},{"s":"a","t":7.6,"v":0.12},{"s":"a","t":7.72,"v":0.06},{"s":"a","t":7.84,"v":0.1},{"s":"a","t":7.96,"v":0.05},{"s":"a","t":8.03,"v":-0.1},{"s":"a","t":8.15,"v":0.38},{"s":"a","t":8.24,"v":0.06},{"s":"a","t":8.36,"v":0.1},{"s":"a","t":8.48,"v":0.07},{"s":"a","t":8.6,"v":0.12},{"s":"a","t":8.72,"v":0.06},{"s":"a","t":8.84,"v":0.1},{"s":"a","t":8.96,"v":0.05},{"s":"a","t":9.08,"v":0.11},{"s":"a","t":9.2,"v":0.07},{"s":"a","t":9.32,"v":0.12},{"s":"a","t":9.44,"v":0.06},{"s":"a","t":9.56,"v":0.1},{"s":"a","t":9.68,"v":0.07},{"s":"a","t":9.8,"v":0.13},{"s":"a","t":9.92,"v":0.06},{"s":"a","t":10.03,"v":-0.12},{"s":"a","t":10.1,"v":0.5},{"s":"a","t":10.16,"v":0.95},{"s":"a","t":10.3,"v":0.6},{"s":"a","t":10.45,"v":0.4},{"s":"a","t":10.55,"v":0.5},{"s":"a","t":10.65,"v":0.35},{"s":"a","t":10.75,"v":0.4},{"s":"a","t":10.82,"v":0.25},{"s":"a","t":10.9,"v":0.35},{"s":"a","t":11,"v":0.2},{"s":"a","t":11.1,"v":0.3},{"s":"a","t":11.2,"v":0.05},{"s":"a","t":11.3,"v":0.6},{"s":"a","t":11.38,"v":0.1},{"s":"a","t":11.48,"v":0},{"s":"a","t":11.58,"v":0.95},{"s":"a","t":11.64,"v":-0.15},{"s":"a","t":11.72,"v":0.3},{"s":"a","t":11.8,"v":0.4},{"s":"a","t":11.9,"v":0.38},{"s":"a","t":11.96,"v":0.4},{"s":"a","t":12,"v":0.22},
{"s":"b","t":0.5,"v":0.95},{"s":"b","t":0.56,"v":0.45},{"s":"b","t":0.6,"v":-0.05},{"s":"b","t":0.65,"v":0.95},{"s":"b","t":0.86,"v":0.95},{"s":"b","t":0.9,"v":0.6},{"s":"b","t":0.95,"v":0.95},{"s":"b","t":1.9,"v":0.95},{"s":"b","t":1.93,"v":0.77},{"s":"b","t":1.97,"v":0.95},{"s":"b","t":2.1,"v":0.72},{"s":"b","t":2.15,"v":0.95},{"s":"b","t":2.2,"v":0.7},{"s":"b","t":2.25,"v":0.47},{"s":"b","t":2.3,"v":0.26},{"s":"b","t":2.36,"v":0.5},{"s":"b","t":2.41,"v":0.4},{"s":"b","t":2.47,"v":-0.15},{"s":"b","t":2.53,"v":-0.1},{"s":"b","t":2.62,"v":0.2},{"s":"b","t":2.7,"v":0.05},{"s":"b","t":2.8,"v":0.18},{"s":"b","t":2.9,"v":0.22},{"s":"b","t":3,"v":0.1},{"s":"b","t":3.1,"v":0.19},{"s":"b","t":3.2,"v":0.14},{"s":"b","t":3.3,"v":0.2},{"s":"b","t":3.42,"v":0.1},{"s":"b","t":3.54,"v":0.18},{"s":"b","t":3.66,"v":0.21},{"s":"b","t":3.78,"v":0.12},{"s":"b","t":3.9,"v":0.2},{"s":"b","t":4,"v":0.14},{"s":"b","t":4.05,"v":0.19},{"s":"b","t":4.11,"v":-0.08},{"s":"b","t":4.2,"v":0.15},{"s":"b","t":4.3,"v":0.2},{"s":"b","t":4.4,"v":0.12},{"s":"b","t":4.5,"v":0.19},{"s":"b","t":4.6,"v":0.14},{"s":"b","t":4.7,"v":0.21},{"s":"b","t":4.8,"v":0.13},{"s":"b","t":4.9,"v":0.2},{"s":"b","t":5,"v":0.1},{"s":"b","t":5.07,"v":-0.03},{"s":"b","t":5.16,"v":0.38},{"s":"b","t":5.24,"v":0.12},{"s":"b","t":5.34,"v":0.2},{"s":"b","t":5.44,"v":0.14},{"s":"b","t":5.54,"v":0.22},{"s":"b","t":5.64,"v":0.13},{"s":"b","t":5.74,"v":0.2},{"s":"b","t":5.84,"v":0.15},{"s":"b","t":5.94,"v":0.21},{"s":"b","t":6.05,"v":-0.06},{"s":"b","t":6.15,"v":0.4},{"s":"b","t":6.24,"v":0.12},{"s":"b","t":6.34,"v":0.2},{"s":"b","t":6.44,"v":0.15},{"s":"b","t":6.54,"v":0.22},{"s":"b","t":6.64,"v":0.13},{"s":"b","t":6.74,"v":0.19},{"s":"b","t":6.84,"v":0.14},{"s":"b","t":6.94,"v":0.2},{"s":"b","t":7.08,"v":-0.08},{"s":"b","t":7.15,"v":0.34},{"s":"b","t":7.24,"v":0.12},{"s":"b","t":7.34,"v":0.2},{"s":"b","t":7.44,"v":0.15},{"s":"b","t":7.54,"v":0.21},{"s":"b","t":7.64,"v":0.13},{"s":"b","t":7.74,"v":0.2},{"s":"b","t":7.84,"v":0.14},{"s":"b","t":7.94,"v":0.19},{"s":"b","t":8.03,"v":-0.12},{"s":"b","t":8.15,"v":0.4},{"s":"b","t":8.24,"v":0.12},{"s":"b","t":8.34,"v":0.22},{"s":"b","t":8.44,"v":0.14},{"s":"b","t":8.54,"v":0.2},{"s":"b","t":8.64,"v":0.13},{"s":"b","t":8.74,"v":0.21},{"s":"b","t":8.84,"v":0.15},{"s":"b","t":8.94,"v":0.2},{"s":"b","t":9.04,"v":0.12},{"s":"b","t":9.14,"v":0.21},{"s":"b","t":9.24,"v":0.14},{"s":"b","t":9.34,"v":0.2},{"s":"b","t":9.44,"v":0.13},{"s":"b","t":9.54,"v":0.21},{"s":"b","t":9.64,"v":0.15},{"s":"b","t":9.74,"v":0.2},{"s":"b","t":9.84,"v":0.12},{"s":"b","t":9.94,"v":0.19},{"s":"b","t":10.03,"v":-0.12},{"s":"b","t":10.08,"v":0.5},{"s":"b","t":10.14,"v":0.95},{"s":"b","t":10.3,"v":0.75},{"s":"b","t":10.5,"v":0.5},{"s":"b","t":10.62,"v":0.35},{"s":"b","t":10.72,"v":0.4},{"s":"b","t":10.85,"v":0.95},{"s":"b","t":11,"v":-0.15},{"s":"b","t":11.3,"v":-0.1},{"s":"b","t":11.47,"v":0.22},{"s":"b","t":11.62,"v":0.15},{"s":"b","t":11.75,"v":0.12},{"s":"b","t":11.85,"v":0.02},{"s":"b","t":12,"v":0},
{"s":"c","t":0.5,"v":0.95},{"s":"c","t":0.57,"v":0.4},{"s":"c","t":0.61,"v":-0.15},{"s":"c","t":0.66,"v":0.95},{"s":"c","t":0.86,"v":0.95},{"s":"c","t":0.9,"v":0.58},{"s":"c","t":0.95,"v":0.95},{"s":"c","t":1.05,"v":0.95},{"s":"c","t":1.1,"v":0.8},{"s":"c","t":1.16,"v":0.95},{"s":"c","t":1.88,"v":0.95},{"s":"c","t":1.92,"v":0.76},{"s":"c","t":1.97,"v":0.95},{"s":"c","t":2.05,"v":0.95},{"s":"c","t":2.1,"v":0.72},{"s":"c","t":2.15,"v":0.95},{"s":"c","t":2.2,"v":0.7},{"s":"c","t":2.25,"v":0.45},{"s":"c","t":2.3,"v":0.27},{"s":"c","t":2.36,"v":0.5},{"s":"c","t":2.41,"v":0.42},{"s":"c","t":2.47,"v":-0.15},{"s":"c","t":2.53,"v":-0.12},{"s":"c","t":2.62,"v":0.24},{"s":"c","t":2.7,"v":0.08},{"s":"c","t":2.8,"v":0.14},{"s":"c","t":2.92,"v":0.09},{"s":"c","t":3.04,"v":0.16},{"s":"c","t":3.16,"v":0.1},{"s":"c","t":3.28,"v":0.17},{"s":"c","t":3.4,"v":0.12},{"s":"c","t":3.52,"v":0.18},{"s":"c","t":3.64,"v":0.1},{"s":"c","t":3.76,"v":0.15},{"s":"c","t":3.88,"v":0.19},{"s":"c","t":3.98,"v":0.12},{"s":"c","t":4.05,"v":0.18},{"s":"c","t":4.11,"v":-0.1},{"s":"c","t":4.2,"v":0.1},{"s":"c","t":4.32,"v":0.07},{"s":"c","t":4.44,"v":0.13},{"s":"c","t":4.56,"v":0.09},{"s":"c","t":4.68,"v":0.16},{"s":"c","t":4.8,"v":0.1},{"s":"c","t":4.92,"v":0.2},{"s":"c","t":5.02,"v":0.08},{"s":"c","t":5.07,"v":-0.06},{"s":"c","t":5.15,"v":0.37},{"s":"c","t":5.24,"v":0.07},{"s":"c","t":5.36,"v":0.15},{"s":"c","t":5.48,"v":0.09},{"s":"c","t":5.6,"v":0.17},{"s":"c","t":5.72,"v":0.1},{"s":"c","t":5.84,"v":0.16},{"s":"c","t":5.96,"v":0.11},{"s":"c","t":6.05,"v":-0.05},{"s":"c","t":6.14,"v":0.36},{"s":"c","t":6.24,"v":0.08},{"s":"c","t":6.36,"v":0.16},{"s":"c","t":6.48,"v":0.1},{"s":"c","t":6.6,"v":0.18},{"s":"c","t":6.72,"v":0.09},{"s":"c","t":6.84,"v":0.17},{"s":"c","t":6.96,"v":0.1},{"s":"c","t":7.06,"v":0.06},{"s":"c","t":7.1,"v":-0.02},{"s":"c","t":7.15,"v":0.39},{"s":"c","t":7.24,"v":0.08},{"s":"c","t":7.36,"v":0.15},{"s":"c","t":7.48,"v":0.1},{"s":"c","t":7.6,"v":0.18},{"s":"c","t":7.72,"v":0.11},{"s":"c","t":7.84,"v":0.16},{"s":"c","t":7.96,"v":0.09},{"s":"c","t":8.03,"v":-0.1},{"s":"c","t":8.15,"v":0.43},{"s":"c","t":8.24,"v":0.09},{"s":"c","t":8.36,"v":0.16},{"s":"c","t":8.48,"v":0.1},{"s":"c","t":8.6,"v":0.17},{"s":"c","t":8.72,"v":0.09},{"s":"c","t":8.84,"v":0.15},{"s":"c","t":8.96,"v":0.1},{"s":"c","t":9.08,"v":0.18},{"s":"c","t":9.2,"v":0.08},{"s":"c","t":9.32,"v":0.2},{"s":"c","t":9.4,"v":0.27},{"s":"c","t":9.48,"v":0.1},{"s":"c","t":9.56,"v":0.17},{"s":"c","t":9.65,"v":0.26},{"s":"c","t":9.72,"v":0.09},{"s":"c","t":9.8,"v":0.18},{"s":"c","t":9.9,"v":0.1},{"s":"c","t":9.98,"v":0.2},{"s":"c","t":10.03,"v":-0.12},{"s":"c","t":10.08,"v":0.55},{"s":"c","t":10.14,"v":0.95},{"s":"c","t":10.25,"v":0.85},{"s":"c","t":10.37,"v":0.8},{"s":"c","t":10.5,"v":0.6},{"s":"c","t":10.65,"v":0.42},{"s":"c","t":10.75,"v":0.45},{"s":"c","t":10.85,"v":0.95},{"s":"c","t":11,"v":-0.15},{"s":"c","t":11.2,"v":-0.15},{"s":"c","t":11.35,"v":0.05},{"s":"c","t":11.45,"v":0.25},{"s":"c","t":11.55,"v":0.2},{"s":"c","t":11.7,"v":0.15},{"s":"c","t":11.85,"v":0.15},{"s":"c","t":12,"v":0.02},
{"s":"d","t":0.5,"v":0.95},{"s":"d","t":0.56,"v":0.5},{"s":"d","t":0.6,"v":0},{"s":"d","t":0.65,"v":0.95},{"s":"d","t":0.86,"v":0.95},{"s":"d","t":0.9,"v":0.55},{"s":"d","t":0.95,"v":0.95},{"s":"d","t":1.05,"v":0.95},{"s":"d","t":1.1,"v":0.78},{"s":"d","t":1.16,"v":0.95},{"s":"d","t":1.88,"v":0.95},{"s":"d","t":1.92,"v":0.74},{"s":"d","t":1.97,"v":0.95},{"s":"d","t":2.05,"v":0.95},{"s":"d","t":2.1,"v":0.7},{"s":"d","t":2.15,"v":0.95},{"s":"d","t":2.2,"v":0.72},{"s":"d","t":2.25,"v":0.45},{"s":"d","t":2.3,"v":0.25},{"s":"d","t":2.36,"v":0.52},{"s":"d","t":2.41,"v":0.4},{"s":"d","t":2.47,"v":-0.15},{"s":"d","t":2.53,"v":-0.15},{"s":"d","t":2.62,"v":0.22},{"s":"d","t":2.7,"v":0.07},{"s":"d","t":2.78,"v":0.16},{"s":"d","t":2.9,"v":0.1},{"s":"d","t":3.02,"v":0.17},{"s":"d","t":3.14,"v":0.09},{"s":"d","t":3.26,"v":0.15},{"s":"d","t":3.38,"v":0.18},{"s":"d","t":3.5,"v":0.11},{"s":"d","t":3.62,"v":0.16},{"s":"d","t":3.74,"v":0.12},{"s":"d","t":3.86,"v":0.17},{"s":"d","t":3.98,"v":0.13},{"s":"d","t":4.05,"v":0.16},{"s":"d","t":4.11,"v":-0.08},{"s":"d","t":4.2,"v":0.12},{"s":"d","t":4.32,"v":0.08},{"s":"d","t":4.44,"v":0.14},{"s":"d","t":4.56,"v":0.1},{"s":"d","t":4.68,"v":0.15},{"s":"d","t":4.8,"v":0.09},{"s":"d","t":4.92,"v":0.13},{"s":"d","t":5.03,"v":0.1},{"s":"d","t":5.08,"v":-0.04},{"s":"d","t":5.16,"v":0.35},{"s":"d","t":5.24,"v":0.08},{"s":"d","t":5.36,"v":0.14},{"s":"d","t":5.48,"v":0.1},{"s":"d","t":5.6,"v":0.16},{"s":"d","t":5.72,"v":0.12},{"s":"d","t":5.84,"v":0.15},{"s":"d","t":5.96,"v":0.1},{"s":"d","t":6.05,"v":-0.08},{"s":"d","t":6.15,"v":0.38},{"s":"d","t":6.24,"v":0.09},{"s":"d","t":6.36,"v":0.15},{"s":"d","t":6.48,"v":0.11},{"s":"d","t":6.6,"v":0.16},{"s":"d","t":6.72,"v":0.1},{"s":"d","t":6.84,"v":0.15},{"s":"d","t":6.96,"v":0.12},{"s":"d","t":7.08,"v":-0.06},{"s":"d","t":7.15,"v":0.32},{"s":"d","t":7.24,"v":0.1},{"s":"d","t":7.36,"v":0.16},{"s":"d","t":7.48,"v":0.11},{"s":"d","t":7.6,"v":0.17},{"s":"d","t":7.72,"v":0.1},{"s":"d","t":7.84,"v":0.14},{"s":"d","t":7.96,"v":0.12},{"s":"d","t":8.03,"v":-0.08},{"s":"d","t":8.15,"v":0.38},{"s":"d","t":8.24,"v":0.1},{"s":"d","t":8.36,"v":0.15},{"s":"d","t":8.48,"v":0.11},{"s":"d","t":8.6,"v":0.16},{"s":"d","t":8.72,"v":0.12},{"s":"d","t":8.84,"v":0.17},{"s":"d","t":8.96,"v":0.1},{"s":"d","t":9.08,"v":0.15},{"s":"d","t":9.2,"v":0.12},{"s":"d","t":9.32,"v":0.17},{"s":"d","t":9.44,"v":0.1},{"s":"d","t":9.56,"v":0.16},{"s":"d","t":9.68,"v":0.12},{"s":"d","t":9.8,"v":0.17},{"s":"d","t":9.92,"v":0.13},{"s":"d","t":9.98,"v":0.18},{"s":"d","t":10.03,"v":-0.12},{"s":"d","t":10.08,"v":0.5},{"s":"d","t":10.14,"v":0.95},{"s":"d","t":10.2,"v":0.8},{"s":"d","t":10.3,"v":0.7},{"s":"d","t":10.45,"v":0.55},{"s":"d","t":10.6,"v":0.42},{"s":"d","t":10.7,"v":0.38},{"s":"d","t":10.8,"v":0.5},{"s":"d","t":10.88,"v":0.95},{"s":"d","t":10.95,"v":0.6},{"s":"d","t":11.03,"v":-0.15},{"s":"d","t":11.2,"v":-0.15},{"s":"d","t":11.3,"v":0.02},{"s":"d","t":11.47,"v":0.28},{"s":"d","t":11.6,"v":0.16},{"s":"d","t":11.75,"v":0.15},{"s":"d","t":11.9,"v":0.12},{"s":"d","t":12,"v":0.03}],
"d2":[
{"s":"a","t":0.45,"v":0.95},{"s":"a","t":0.53,"v":0.07},{"s":"a","t":0.58,"v":0.95},{"s":"a","t":0.88,"v":0.95},{"s":"a","t":0.92,"v":0.66},{"s":"a","t":0.97,"v":0.95},{"s":"a","t":1.06,"v":0.95},{"s":"a","t":1.09,"v":0.78},{"s":"a","t":1.12,"v":0.95},{"s":"a","t":1.88,"v":0.95},{"s":"a","t":1.92,"v":0.75},{"s":"a","t":1.97,"v":0.95},{"s":"a","t":2.06,"v":0.8},{"s":"a","t":2.15,"v":0.7},{"s":"a","t":2.2,"v":0.95},{"s":"a","t":2.27,"v":-0.15},{"s":"a","t":2.3,"v":-0.1},{"s":"a","t":2.45,"v":0.25},{"s":"a","t":2.6,"v":0.1},{"s":"a","t":2.75,"v":0.45},{"s":"a","t":2.9,"v":0.2},{"s":"a","t":3.05,"v":0.4},{"s":"a","t":3.2,"v":0.1},{"s":"a","t":3.35,"v":0.5},{"s":"a","t":3.5,"v":0.2},{"s":"a","t":3.65,"v":0.35},{"s":"a","t":3.8,"v":0.55},{"s":"a","t":3.95,"v":0.1},{"s":"a","t":4.1,"v":0.4},{"s":"a","t":4.25,"v":0.15},{"s":"a","t":4.4,"v":0.45},{"s":"a","t":4.55,"v":0.05},{"s":"a","t":4.7,"v":0.35},{"s":"a","t":4.85,"v":0.2},{"s":"a","t":5,"v":0.55},{"s":"a","t":5.15,"v":0.1},{"s":"a","t":5.3,"v":0.4},{"s":"a","t":5.45,"v":0.2},{"s":"a","t":5.6,"v":0.45},{"s":"a","t":5.75,"v":0.05},{"s":"a","t":5.9,"v":0.4},{"s":"a","t":6.05,"v":0.15},{"s":"a","t":6.2,"v":0.5},{"s":"a","t":6.35,"v":0.1},{"s":"a","t":6.5,"v":0.45},{"s":"a","t":6.65,"v":0.2},{"s":"a","t":6.8,"v":0.5},{"s":"a","t":6.95,"v":0.1},{"s":"a","t":7.1,"v":0.4},{"s":"a","t":7.25,"v":0.2},{"s":"a","t":7.4,"v":0.5},{"s":"a","t":7.55,"v":0.15},{"s":"a","t":7.7,"v":0.45},{"s":"a","t":7.85,"v":0.1},{"s":"a","t":8,"v":0.4},{"s":"a","t":8.15,"v":0.2},{"s":"a","t":8.3,"v":0.5},{"s":"a","t":8.45,"v":0.1},{"s":"a","t":8.6,"v":0.45},{"s":"a","t":8.75,"v":0.2},{"s":"a","t":8.9,"v":0.55},{"s":"a","t":9.05,"v":-0.1},{"s":"a","t":9.2,"v":0.4},{"s":"a","t":9.35,"v":0.15},{"s":"a","t":9.5,"v":0.5},{"s":"a","t":9.65,"v":0.1},{"s":"a","t":9.8,"v":0.45},{"s":"a","t":9.95,"v":0.2},{"s":"a","t":10.05,"v":0.25},{"s":"a","t":10.12,"v":-0.1},{"s":"a","t":10.18,"v":0.95},{"s":"a","t":10.3,"v":0.9},{"s":"a","t":10.4,"v":0.55},{"s":"a","t":10.5,"v":0.45},{"s":"a","t":10.6,"v":0.4},{"s":"a","t":10.7,"v":0.3},{"s":"a","t":10.8,"v":0.45},{"s":"a","t":10.9,"v":0.25},{"s":"a","t":11,"v":0.35},{"s":"a","t":11.1,"v":0.2},{"s":"a","t":11.2,"v":0.3},{"s":"a","t":11.3,"v":0.18},{"s":"a","t":11.4,"v":0.3},{"s":"a","t":11.45,"v":0.25},{"s":"a","t":11.5,"v":0.95},{"s":"a","t":11.55,"v":0.5},{"s":"a","t":11.6,"v":0.95},{"s":"a","t":11.66,"v":-0.15},
{"s":"b","t":0.45,"v":0.95},{"s":"b","t":0.53,"v":0.13},{"s":"b","t":0.58,"v":0.95},{"s":"b","t":0.88,"v":0.95},{"s":"b","t":0.92,"v":0.7},{"s":"b","t":0.97,"v":0.95},{"s":"b","t":1.06,"v":0.95},{"s":"b","t":1.09,"v":0.77},{"s":"b","t":1.12,"v":0.95},{"s":"b","t":1.88,"v":0.95},{"s":"b","t":1.92,"v":0.78},{"s":"b","t":1.97,"v":0.95},{"s":"b","t":2.06,"v":0.82},{"s":"b","t":2.15,"v":0.72},{"s":"b","t":2.2,"v":0.95},{"s":"b","t":2.27,"v":-0.1},{"s":"b","t":2.3,"v":0.05},{"s":"b","t":2.4,"v":0.3},{"s":"b","t":2.5,"v":0.1},{"s":"b","t":2.6,"v":0.45},{"s":"b","t":2.7,"v":0.2},{"s":"b","t":2.8,"v":0.5},{"s":"b","t":2.9,"v":0.05},{"s":"b","t":3,"v":0.35},{"s":"b","t":3.1,"v":0.15},{"s":"b","t":3.2,"v":0.45},{"s":"b","t":3.3,"v":0.3},{"s":"b","t":3.4,"v":0.05},{"s":"b","t":3.5,"v":0.35},{"s":"b","t":3.6,"v":0.7},{"s":"b","t":3.7,"v":0.2},{"s":"b","t":3.8,"v":0.4},{"s":"b","t":3.9,"v":0.1},{"s":"b","t":4,"v":0.3},{"s":"b","t":4.1,"v":0.5},{"s":"b","t":4.2,"v":0.15},{"s":"b","t":4.3,"v":0.72},{"s":"b","t":4.4,"v":0.05},{"s":"b","t":4.5,"v":0.45},{"s":"b","t":4.6,"v":0.25},{"s":"b","t":4.7,"v":0.55},{"s":"b","t":4.8,"v":0.1},{"s":"b","t":4.9,"v":0.35},{"s":"b","t":5,"v":0.2},{"s":"b","t":5.1,"v":0.45},{"s":"b","t":5.2,"v":0.05},{"s":"b","t":5.3,"v":0.4},{"s":"b","t":5.4,"v":0.25},{"s":"b","t":5.5,"v":0.5},{"s":"b","t":5.6,"v":0.1},{"s":"b","t":5.7,"v":0.35},{"s":"b","t":5.8,"v":0.2},{"s":"b","t":5.9,"v":0.55},{"s":"b","t":6,"v":0.05},{"s":"b","t":6.1,"v":0.7},{"s":"b","t":6.2,"v":0.15},{"s":"b","t":6.3,"v":0.6},{"s":"b","t":6.4,"v":-0.1},{"s":"b","t":6.5,"v":0.68},{"s":"b","t":6.6,"v":0.2},{"s":"b","t":6.7,"v":0.65},{"s":"b","t":6.8,"v":-0.1},{"s":"b","t":6.9,"v":0.5},{"s":"b","t":7,"v":0.1},{"s":"b","t":7.1,"v":0.62},{"s":"b","t":7.2,"v":0.2},{"s":"b","t":7.3,"v":0.45},{"s":"b","t":7.4,"v":0.05},{"s":"b","t":7.5,"v":0.55},{"s":"b","t":7.6,"v":0.25},{"s":"b","t":7.7,"v":0.5},{"s":"b","t":7.8,"v":0.1},{"s":"b","t":7.9,"v":0.45},{"s":"b","t":8,"v":0.2},{"s":"b","t":8.1,"v":0.55},{"s":"b","t":8.2,"v":-0.05},{"s":"b","t":8.3,"v":0.4},{"s":"b","t":8.4,"v":0.15},{"s":"b","t":8.5,"v":0.5},{"s":"b","t":8.6,"v":0.1},{"s":"b","t":8.7,"v":0.78},{"s":"b","t":8.8,"v":0.05},{"s":"b","t":8.9,"v":0.45},{"s":"b","t":9,"v":0.15},{"s":"b","t":9.1,"v":0.6},{"s":"b","t":9.2,"v":-0.1},{"s":"b","t":9.3,"v":0.5},{"s":"b","t":9.4,"v":0.2},{"s":"b","t":9.5,"v":0.45},{"s":"b","t":9.6,"v":0.1},{"s":"b","t":9.7,"v":0.55},{"s":"b","t":9.8,"v":0.2},{"s":"b","t":9.9,"v":0.4},{"s":"b","t":10,"v":-0.1},{"s":"b","t":10.05,"v":0.3},{"s":"b","t":10.12,"v":-0.1},{"s":"b","t":10.18,"v":0.95},{"s":"b","t":10.3,"v":0.7},{"s":"b","t":10.4,"v":0.5},{"s":"b","t":10.5,"v":0.55},{"s":"b","t":10.6,"v":0.48},{"s":"b","t":10.7,"v":0.55},{"s":"b","t":10.8,"v":0.5},{"s":"b","t":10.9,"v":0.55},{"s":"b","t":11,"v":0.48},{"s":"b","t":11.1,"v":0.55},{"s":"b","t":11.2,"v":0.5},{"s":"b","t":11.3,"v":0.38},{"s":"b","t":11.38,"v":0.5},{"s":"b","t":11.45,"v":0.52},{"s":"b","t":11.5,"v":0.95},{"s":"b","t":11.55,"v":0.7},{"s":"b","t":11.6,"v":0.95},{"s":"b","t":11.68,"v":0},
{"s":"c","t":0.45,"v":0.95},{"s":"c","t":0.53,"v":0.1},{"s":"c","t":0.58,"v":0.95},{"s":"c","t":0.88,"v":0.95},{"s":"c","t":0.92,"v":0.68},{"s":"c","t":0.97,"v":0.95},{"s":"c","t":1.88,"v":0.95},{"s":"c","t":1.92,"v":0.74},{"s":"c","t":1.97,"v":0.95},{"s":"c","t":2.06,"v":0.8},{"s":"c","t":2.15,"v":0.72},{"s":"c","t":2.2,"v":0.95},{"s":"c","t":2.27,"v":-0.15},{"s":"c","t":2.3,"v":0},{"s":"c","t":2.4,"v":-0.05},{"s":"c","t":2.5,"v":0.15},{"s":"c","t":2.6,"v":0.53},{"s":"c","t":2.7,"v":0.05},{"s":"c","t":2.8,"v":0.55},{"s":"c","t":2.9,"v":0.1},{"s":"c","t":3,"v":0.45},{"s":"c","t":3.1,"v":0.2},{"s":"c","t":3.2,"v":0.52},{"s":"c","t":3.3,"v":0.15},{"s":"c","t":3.4,"v":0.4},{"s":"c","t":3.5,"v":0.25},{"s":"c","t":3.6,"v":0.5},{"s":"c","t":3.7,"v":0.1},{"s":"c","t":3.8,"v":0.35},{"s":"c","t":3.9,"v":0.2},{"s":"c","t":4,"v":0.45},{"s":"c","t":4.1,"v":0.05},{"s":"c","t":4.2,"v":0.3},{"s":"c","t":4.3,"v":0.1},{"s":"c","t":4.4,"v":0.42},{"s":"c","t":4.5,"v":0.15},{"s":"c","t":4.6,"v":0.35},{"s":"c","t":4.7,"v":0.05},{"s":"c","t":4.8,"v":0.25},{"s":"c","t":4.9,"v":0.4},{"s":"c","t":5,"v":0.1},{"s":"c","t":5.1,"v":0.3},{"s":"c","t":5.2,"v":-0.05},{"s":"c","t":5.3,"v":0.45},{"s":"c","t":5.4,"v":0.15},{"s":"c","t":5.5,"v":0.38},{"s":"c","t":5.6,"v":0},{"s":"c","t":5.7,"v":0.48},{"s":"c","t":5.8,"v":0.1},{"s":"c","t":5.9,"v":0.4},{"s":"c","t":6,"v":0.05},{"s":"c","t":6.1,"v":0.45},{"s":"c","t":6.2,"v":0.2},{"s":"c","t":6.3,"v":0.55},{"s":"c","t":6.4,"v":0},{"s":"c","t":6.5,"v":0.5},{"s":"c","t":6.6,"v":0.1},{"s":"c","t":6.7,"v":0.45},{"s":"c","t":6.8,"v":0},{"s":"c","t":6.9,"v":0.58},{"s":"c","t":7,"v":0.15},{"s":"c","t":7.1,"v":0.42},{"s":"c","t":7.2,"v":0.05},{"s":"c","t":7.3,"v":0.5},{"s":"c","t":7.4,"v":0.1},{"s":"c","t":7.5,"v":0.45},{"s":"c","t":7.6,"v":0.15},{"s":"c","t":7.7,"v":0.55},{"s":"c","t":7.8,"v":0.05},{"s":"c","t":7.9,"v":0.4},{"s":"c","t":8,"v":0.2},{"s":"c","t":8.1,"v":0.52},{"s":"c","t":8.2,"v":0.1},{"s":"c","t":8.3,"v":0.68},{"s":"c","t":8.4,"v":-0.05},{"s":"c","t":8.5,"v":0.4},{"s":"c","t":8.6,"v":0.15},{"s":"c","t":8.7,"v":0.5},{"s":"c","t":8.8,"v":0.1},{"s":"c","t":8.9,"v":0.6},{"s":"c","t":9,"v":0.05},{"s":"c","t":9.1,"v":0.45},{"s":"c","t":9.2,"v":0.15},{"s":"c","t":9.3,"v":0.38},{"s":"c","t":9.4,"v":0.05},{"s":"c","t":9.5,"v":0.42},{"s":"c","t":9.6,"v":0.1},{"s":"c","t":9.7,"v":0.5},{"s":"c","t":9.8,"v":0.15},{"s":"c","t":9.9,"v":0.35},{"s":"c","t":10,"v":0.1},{"s":"c","t":10.08,"v":0.3},{"s":"c","t":10.12,"v":-0.1},{"s":"c","t":10.18,"v":0.95},{"s":"c","t":10.28,"v":0.95},{"s":"c","t":10.35,"v":0.6},{"s":"c","t":10.45,"v":0.45},{"s":"c","t":10.52,"v":0.5},{"s":"c","t":10.6,"v":0.3},{"s":"c","t":10.7,"v":0.45},{"s":"c","t":10.8,"v":0.3},{"s":"c","t":10.9,"v":0.42},{"s":"c","t":11,"v":0.25},{"s":"c","t":11.1,"v":0.35},{"s":"c","t":11.2,"v":0.22},{"s":"c","t":11.32,"v":0.2},{"s":"c","t":11.42,"v":0.3},{"s":"c","t":11.5,"v":0.95},{"s":"c","t":11.55,"v":0.1},{"s":"c","t":11.62,"v":0.95},{"s":"c","t":11.66,"v":-0.15},
{"s":"d","t":0.45,"v":0.95},{"s":"d","t":0.53,"v":0.2},{"s":"d","t":0.58,"v":0.95},{"s":"d","t":0.88,"v":0.95},{"s":"d","t":0.92,"v":0.7},{"s":"d","t":0.97,"v":0.95},{"s":"d","t":1.06,"v":0.95},{"s":"d","t":1.09,"v":0.8},{"s":"d","t":1.12,"v":0.95},{"s":"d","t":1.88,"v":0.95},{"s":"d","t":1.92,"v":0.76},{"s":"d","t":1.97,"v":0.95},{"s":"d","t":2.06,"v":0.82},{"s":"d","t":2.15,"v":0.75},{"s":"d","t":2.2,"v":0.95},{"s":"d","t":2.27,"v":-0.15},{"s":"d","t":2.35,"v":0},{"s":"d","t":2.4,"v":0.2},{"s":"d","t":2.48,"v":0.35},{"s":"d","t":2.55,"v":0.15},{"s":"d","t":2.62,"v":0.45},{"s":"d","t":2.7,"v":0.2},{"s":"d","t":2.78,"v":0.4},{"s":"d","t":2.86,"v":0.25},{"s":"d","t":2.94,"v":0.5},{"s":"d","t":3.02,"v":0.3},{"s":"d","t":3.1,"v":0.2},{"s":"d","t":3.18,"v":0.45},{"s":"d","t":3.26,"v":0.25},{"s":"d","t":3.34,"v":0.4},{"s":"d","t":3.42,"v":0.15},{"s":"d","t":3.5,"v":0.35},{"s":"d","t":3.58,"v":0.05},{"s":"d","t":3.66,"v":0.4},{"s":"d","t":3.74,"v":0.25},{"s":"d","t":3.82,"v":0.45},{"s":"d","t":3.9,"v":0.3},{"s":"d","t":3.98,"v":0.2},{"s":"d","t":4.06,"v":0.45},{"s":"d","t":4.14,"v":-0.05},{"s":"d","t":4.22,"v":0.3},{"s":"d","t":4.3,"v":0.1},{"s":"d","t":4.38,"v":0.5},{"s":"d","t":4.46,"v":0.2},{"s":"d","t":4.54,"v":0.35},{"s":"d","t":4.62,"v":0.05},{"s":"d","t":4.7,"v":0.3},{"s":"d","t":4.78,"v":0.15},{"s":"d","t":4.86,"v":0.55},{"s":"d","t":4.94,"v":0.1},{"s":"d","t":5,"v":0.65},{"s":"d","t":5.05,"v":-0.1},{"s":"d","t":5.12,"v":0.4},{"s":"d","t":5.2,"v":0.2},{"s":"d","t":5.28,"v":0.7},{"s":"d","t":5.36,"v":-0.05},{"s":"d","t":5.44,"v":0.45},{"s":"d","t":5.5,"v":0.15},{"s":"d","t":5.56,"v":0.65},{"s":"d","t":5.62,"v":-0.1},{"s":"d","t":5.68,"v":0.75},{"s":"d","t":5.74,"v":0.1},{"s":"d","t":5.8,"v":0.95},{"s":"d","t":5.85,"v":0.2},{"s":"d","t":5.9,"v":-0.1},{"s":"d","t":5.96,"v":0.7},{"s":"d","t":6.02,"v":0.1},{"s":"d","t":6.08,"v":0.95},{"s":"d","t":6.14,"v":0},{"s":"d","t":6.2,"v":0.6},{"s":"d","t":6.26,"v":0.95},{"s":"d","t":6.3,"v":-0.1},{"s":"d","t":6.36,"v":0.6},{"s":"d","t":6.42,"v":-0.1},{"s":"d","t":6.5,"v":-0.05},{"s":"d","t":6.62,"v":-0.05},{"s":"d","t":6.7,"v":-0.07},{"s":"d","t":6.8,"v":-0.15},{"s":"d","t":6.95,"v":-0.15},{"s":"d","t":7.15,"v":-0.15},{"s":"d","t":7.25,"v":0.12},{"s":"d","t":7.35,"v":0.22},{"s":"d","t":7.5,"v":0.3},{"s":"d","t":7.62,"v":0.32},{"s":"d","t":7.75,"v":0.3},{"s":"d","t":7.9,"v":0.25},{"s":"d","t":8.05,"v":0.17},{"s":"d","t":8.15,"v":0.1},{"s":"d","t":8.25,"v":0.03},{"s":"d","t":8.35,"v":0},{"s":"d","t":12,"v":0}],
"e1":[
{"s":"a","t":0,"v":0.04},{"s":"a","t":4,"v":0.04},{"s":"a","t":4.1,"v":0.77},{"s":"a","t":4.3,"v":0.73},{"s":"a","t":4.6,"v":0.71},{"s":"a","t":5.5,"v":0.71},{"s":"a","t":6.5,"v":0.705},{"s":"a","t":7.5,"v":0.7},{"s":"a","t":8.5,"v":0.705},{"s":"a","t":9.5,"v":0.7},{"s":"a","t":9.97,"v":0.7},{"s":"a","t":10.04,"v":0.04},{"s":"a","t":12,"v":0.04},
{"s":"b","t":0,"v":0.04},{"s":"b","t":4,"v":0.04},{"s":"b","t":4.1,"v":0.77},{"s":"b","t":4.3,"v":0.72},{"s":"b","t":4.6,"v":0.7},{"s":"b","t":5.5,"v":0.7},{"s":"b","t":6.5,"v":0.7},{"s":"b","t":7.5,"v":0.7},{"s":"b","t":8.5,"v":0.7},{"s":"b","t":9.5,"v":0.7},{"s":"b","t":9.97,"v":0.7},{"s":"b","t":10.04,"v":0.04},{"s":"b","t":12,"v":0.04},
{"s":"c","t":0,"v":0.04},{"s":"c","t":4,"v":0.04},{"s":"c","t":4.1,"v":0.77},{"s":"c","t":4.3,"v":0.72},{"s":"c","t":4.6,"v":0.7},{"s":"c","t":5.5,"v":0.695},{"s":"c","t":6.5,"v":0.69},{"s":"c","t":7.5,"v":0.7},{"s":"c","t":8.5,"v":0.705},{"s":"c","t":9.5,"v":0.7},{"s":"c","t":9.97,"v":0.695},{"s":"c","t":10.04,"v":0.04},{"s":"c","t":12,"v":0.04},
{"s":"d","t":0,"v":0.04},{"s":"d","t":4,"v":0.04},{"s":"d","t":4.1,"v":0.775},{"s":"d","t":4.3,"v":0.72},{"s":"d","t":4.6,"v":0.7},{"s":"d","t":5.5,"v":0.695},{"s":"d","t":6.5,"v":0.7},{"s":"d","t":7.5,"v":0.69},{"s":"d","t":8.5,"v":0.695},{"s":"d","t":9.5,"v":0.695},{"s":"d","t":9.97,"v":0.695},{"s":"d","t":10.04,"v":0.04},{"s":"d","t":12,"v":0.04}],
"e2":[
{"s":"a","t":0,"v":0.04},{"s":"a","t":4.05,"v":0.04},{"s":"a","t":4.15,"v":0.78},{"s":"a","t":4.35,"v":0.73},{"s":"a","t":4.7,"v":0.71},{"s":"a","t":5.5,"v":0.705},{"s":"a","t":6.5,"v":0.71},{"s":"a","t":7.5,"v":0.7},{"s":"a","t":8.5,"v":0.705},{"s":"a","t":9.5,"v":0.705},{"s":"a","t":10,"v":0.7},{"s":"a","t":10.05,"v":0.04},{"s":"a","t":12,"v":0.04},
{"s":"b","t":0,"v":0.04},{"s":"b","t":4.05,"v":0.04},{"s":"b","t":4.15,"v":0.78},{"s":"b","t":4.35,"v":0.73},{"s":"b","t":4.7,"v":0.705},{"s":"b","t":5.5,"v":0.7},{"s":"b","t":6.5,"v":0.705},{"s":"b","t":7.5,"v":0.7},{"s":"b","t":8.5,"v":0.71},{"s":"b","t":9.5,"v":0.71},{"s":"b","t":10,"v":0.705},{"s":"b","t":10.05,"v":0.04},{"s":"b","t":12,"v":0.04},
{"s":"c","t":0,"v":0.04},{"s":"c","t":4.05,"v":0.04},{"s":"c","t":4.15,"v":0.77},{"s":"c","t":4.35,"v":0.72},{"s":"c","t":4.7,"v":0.7},{"s":"c","t":5.5,"v":0.695},{"s":"c","t":6.5,"v":0.69},{"s":"c","t":7.5,"v":0.69},{"s":"c","t":8.5,"v":0.695},{"s":"c","t":9.5,"v":0.695},{"s":"c","t":10,"v":0.69},{"s":"c","t":10.06,"v":0.04},{"s":"c","t":12,"v":0.04},
{"s":"d","t":0,"v":0.04},{"s":"d","t":4.05,"v":0.04},{"s":"d","t":4.15,"v":0.78},{"s":"d","t":4.35,"v":0.72},{"s":"d","t":4.7,"v":0.7},{"s":"d","t":5.5,"v":0.69},{"s":"d","t":6.22,"v":0.69},{"s":"d","t":6.29,"v":0.04},{"s":"d","t":12,"v":0.04}],
"f1":[
{"s":"a","g":"L","t":0,"v":0},{"s":"a","g":"L","t":2.38,"v":0},{"s":"a","g":"L","t":2.46,"v":1.48},{"s":"a","g":"L","t":2.71,"v":1.49},{"s":"a","g":"L","t":2.73,"v":1.55},{"s":"a","g":"L","t":2.76,"v":1.49},{"s":"a","g":"L","t":3.9,"v":1.49},{"s":"a","g":"L","t":3.93,"v":1.55},{"s":"a","g":"L","t":3.96,"v":1.49},{"s":"a","g":"L","t":6,"v":1.49},{"s":"a","g":"L","t":8,"v":1.49},{"s":"a","g":"L","t":9.28,"v":1.49},{"s":"a","g":"L","t":9.3,"v":1.56},{"s":"a","g":"L","t":9.33,"v":1.49},{"s":"a","g":"L","t":10,"v":1.49},{"s":"a","g":"L","t":10.08,"v":0},{"s":"a","g":"L","t":12,"v":0},
{"s":"a","g":"E","t":0,"v":0},{"s":"a","g":"E","t":2.25,"v":0},{"s":"a","g":"E","t":2.3,"v":0.56},{"s":"a","g":"E","t":2.4,"v":0.6},{"s":"a","g":"E","t":2.6,"v":0.62},{"s":"a","g":"E","t":3,"v":0.64},{"s":"a","g":"E","t":3.5,"v":0.66},{"s":"a","g":"E","t":4.5,"v":0.65},{"s":"a","g":"E","t":5.5,"v":0.64},{"s":"a","g":"E","t":6.5,"v":0.63},{"s":"a","g":"E","t":7.5,"v":0.63},{"s":"a","g":"E","t":8.5,"v":0.63},{"s":"a","g":"E","t":9.5,"v":0.63},{"s":"a","g":"E","t":10.05,"v":0.62},{"s":"a","g":"E","t":10.12,"v":0},{"s":"a","g":"E","t":12,"v":0},
{"s":"b","g":"L","t":0,"v":0},{"s":"b","g":"L","t":2.38,"v":0},{"s":"b","g":"L","t":2.46,"v":1.48},{"s":"b","g":"L","t":4,"v":1.48},{"s":"b","g":"L","t":6,"v":1.47},{"s":"b","g":"L","t":8,"v":1.48},{"s":"b","g":"L","t":10,"v":1.48},{"s":"b","g":"L","t":10.08,"v":0},{"s":"b","g":"L","t":12,"v":0},
{"s":"b","g":"E","t":0,"v":0},{"s":"b","g":"E","t":2.25,"v":0},{"s":"b","g":"E","t":2.3,"v":0.56},{"s":"b","g":"E","t":2.4,"v":0.6},{"s":"b","g":"E","t":3,"v":0.64},{"s":"b","g":"E","t":3.5,"v":0.65},{"s":"b","g":"E","t":4.5,"v":0.64},{"s":"b","g":"E","t":5.5,"v":0.63},{"s":"b","g":"E","t":6.5,"v":0.61},{"s":"b","g":"E","t":7.5,"v":0.62},{"s":"b","g":"E","t":8.5,"v":0.6},{"s":"b","g":"E","t":9.5,"v":0.61},{"s":"b","g":"E","t":10.05,"v":0.6},{"s":"b","g":"E","t":10.12,"v":0},{"s":"b","g":"E","t":12,"v":0},
{"s":"c","g":"L","t":0,"v":0},{"s":"c","g":"L","t":2.38,"v":0},{"s":"c","g":"L","t":2.46,"v":1.46},{"s":"c","g":"L","t":4,"v":1.47},{"s":"c","g":"L","t":6,"v":1.47},{"s":"c","g":"L","t":8,"v":1.47},{"s":"c","g":"L","t":10,"v":1.47},{"s":"c","g":"L","t":10.08,"v":0},{"s":"c","g":"L","t":12,"v":0},
{"s":"c","g":"E","t":0,"v":0},{"s":"c","g":"E","t":2.25,"v":0},{"s":"c","g":"E","t":2.3,"v":0.55},{"s":"c","g":"E","t":2.4,"v":0.6},{"s":"c","g":"E","t":3,"v":0.62},{"s":"c","g":"E","t":3.5,"v":0.67},{"s":"c","g":"E","t":4.5,"v":0.65},{"s":"c","g":"E","t":5.5,"v":0.64},{"s":"c","g":"E","t":6.5,"v":0.62},{"s":"c","g":"E","t":7.5,"v":0.61},{"s":"c","g":"E","t":8.5,"v":0.6},{"s":"c","g":"E","t":9.5,"v":0.59},{"s":"c","g":"E","t":10.05,"v":0.59},{"s":"c","g":"E","t":10.12,"v":0},{"s":"c","g":"E","t":12,"v":0},
{"s":"d","g":"L","t":0,"v":0},{"s":"d","g":"L","t":2.38,"v":0},{"s":"d","g":"L","t":2.46,"v":1.48},{"s":"d","g":"L","t":4,"v":1.48},{"s":"d","g":"L","t":6,"v":1.48},{"s":"d","g":"L","t":8,"v":1.48},{"s":"d","g":"L","t":10,"v":1.48},{"s":"d","g":"L","t":10.08,"v":0},{"s":"d","g":"L","t":12,"v":0},
{"s":"d","g":"E","t":0,"v":0},{"s":"d","g":"E","t":2.15,"v":0},{"s":"d","g":"E","t":2.22,"v":0.5},{"s":"d","g":"E","t":2.3,"v":0.6},{"s":"d","g":"E","t":2.4,"v":0.61},{"s":"d","g":"E","t":3,"v":0.63},{"s":"d","g":"E","t":3.5,"v":0.65},{"s":"d","g":"E","t":4.5,"v":0.64},{"s":"d","g":"E","t":5.5,"v":0.64},{"s":"d","g":"E","t":6.2,"v":0.6},{"s":"d","g":"E","t":6.6,"v":0.61},{"s":"d","g":"E","t":7.5,"v":0.63},{"s":"d","g":"E","t":8.5,"v":0.62},{"s":"d","g":"E","t":9.5,"v":0.63},{"s":"d","g":"E","t":10.05,"v":0.62},{"s":"d","g":"E","t":10.12,"v":0},{"s":"d","g":"E","t":12,"v":0}],
"f2":[
{"s":"a","g":"N","t":0,"v":0},{"s":"a","g":"N","t":2.2,"v":0},{"s":"a","g":"N","t":2.25,"v":1.15},{"s":"a","g":"N","t":2.3,"v":1.17},{"s":"a","g":"N","t":2.33,"v":2.22},{"s":"a","g":"N","t":3,"v":2.23},{"s":"a","g":"N","t":4,"v":2.22},{"s":"a","g":"N","t":5,"v":2.21},{"s":"a","g":"N","t":6,"v":2.2},{"s":"a","g":"N","t":7,"v":2.2},{"s":"a","g":"N","t":8,"v":2.2},{"s":"a","g":"N","t":9.1,"v":2.21},{"s":"a","g":"N","t":9.12,"v":1.18},{"s":"a","g":"N","t":9.3,"v":1.18},{"s":"a","g":"N","t":9.32,"v":2.21},{"s":"a","g":"N","t":10.15,"v":2.2},{"s":"a","g":"N","t":10.17,"v":0},{"s":"a","g":"N","t":12,"v":0},
{"s":"a","g":"E","t":0,"v":0},{"s":"a","g":"E","t":2.2,"v":0},{"s":"a","g":"E","t":2.25,"v":0.55},{"s":"a","g":"E","t":2.35,"v":0.6},{"s":"a","g":"E","t":2.6,"v":0.64},{"s":"a","g":"E","t":3.5,"v":0.66},{"s":"a","g":"E","t":4.5,"v":0.66},{"s":"a","g":"E","t":5.5,"v":0.64},{"s":"a","g":"E","t":6.5,"v":0.66},{"s":"a","g":"E","t":7.5,"v":0.66},{"s":"a","g":"E","t":8.5,"v":0.66},{"s":"a","g":"E","t":9.5,"v":0.66},{"s":"a","g":"E","t":10,"v":0.65},{"s":"a","g":"E","t":10.05,"v":0.6},{"s":"a","g":"E","t":10.1,"v":0},{"s":"a","g":"E","t":12,"v":0},
{"s":"b","g":"N","t":0,"v":0},{"s":"b","g":"N","t":2.2,"v":0},{"s":"b","g":"N","t":2.25,"v":1.15},{"s":"b","g":"N","t":2.3,"v":1.17},{"s":"b","g":"N","t":2.33,"v":2.2},{"s":"b","g":"N","t":3,"v":2.21},{"s":"b","g":"N","t":4.35,"v":2.2},{"s":"b","g":"N","t":4.37,"v":0.97},{"s":"b","g":"N","t":4.58,"v":0.97},{"s":"b","g":"N","t":4.6,"v":2.2},{"s":"b","g":"N","t":6,"v":2.19},{"s":"b","g":"N","t":7,"v":2.18},{"s":"b","g":"N","t":8,"v":2.18},{"s":"b","g":"N","t":8.95,"v":2.19},{"s":"b","g":"N","t":8.97,"v":1.16},{"s":"b","g":"N","t":9.15,"v":1.16},{"s":"b","g":"N","t":9.17,"v":2.2},{"s":"b","g":"N","t":10.12,"v":2.2},{"s":"b","g":"N","t":10.14,"v":1.2},{"s":"b","g":"N","t":10.2,"v":1.2},{"s":"b","g":"N","t":10.22,"v":0},{"s":"b","g":"N","t":12,"v":0},
{"s":"b","g":"E","t":0,"v":0},{"s":"b","g":"E","t":2.2,"v":0},{"s":"b","g":"E","t":2.25,"v":0.55},{"s":"b","g":"E","t":2.35,"v":0.6},{"s":"b","g":"E","t":2.6,"v":0.64},{"s":"b","g":"E","t":3.5,"v":0.66},{"s":"b","g":"E","t":4.5,"v":0.65},{"s":"b","g":"E","t":5.5,"v":0.64},{"s":"b","g":"E","t":6.5,"v":0.66},{"s":"b","g":"E","t":7.5,"v":0.65},{"s":"b","g":"E","t":8.5,"v":0.66},{"s":"b","g":"E","t":9.5,"v":0.65},{"s":"b","g":"E","t":10,"v":0.65},{"s":"b","g":"E","t":10.05,"v":0.6},{"s":"b","g":"E","t":10.1,"v":0},{"s":"b","g":"E","t":12,"v":0},
{"s":"c","g":"N","t":0,"v":0},{"s":"c","g":"N","t":2.2,"v":0},{"s":"c","g":"N","t":2.25,"v":1.15},{"s":"c","g":"N","t":2.3,"v":1.17},{"s":"c","g":"N","t":2.33,"v":2.15},{"s":"c","g":"N","t":3,"v":2.17},{"s":"c","g":"N","t":4,"v":2.18},{"s":"c","g":"N","t":5,"v":2.17},{"s":"c","g":"N","t":6,"v":2.18},{"s":"c","g":"N","t":7,"v":2.19},{"s":"c","g":"N","t":8,"v":2.19},{"s":"c","g":"N","t":8.33,"v":2.19},{"s":"c","g":"N","t":8.35,"v":1.2},{"s":"c","g":"N","t":8.55,"v":1.2},{"s":"c","g":"N","t":8.57,"v":2.25},{"s":"c","g":"N","t":8.8,"v":2.2},{"s":"c","g":"N","t":9.5,"v":2.19},{"s":"c","g":"N","t":9.96,"v":2.19},{"s":"c","g":"N","t":9.98,"v":2.8},{"s":"c","g":"N","t":9.99,"v":0.85},{"s":"c","g":"N","t":10.04,"v":1},{"s":"c","g":"N","t":10.1,"v":0.95},{"s":"c","g":"N","t":10.13,"v":0},{"s":"c","g":"N","t":10.2,"v":0},{"s":"c","g":"N","t":10.23,"v":1.2},{"s":"c","g":"N","t":10.26,"v":0},{"s":"c","g":"N","t":12,"v":0},
{"s":"c","g":"E","t":0,"v":0},{"s":"c","g":"E","t":2.2,"v":0},{"s":"c","g":"E","t":2.25,"v":0.55},{"s":"c","g":"E","t":2.35,"v":0.6},{"s":"c","g":"E","t":2.6,"v":0.63},{"s":"c","g":"E","t":3.5,"v":0.65},{"s":"c","g":"E","t":4.5,"v":0.65},{"s":"c","g":"E","t":5.5,"v":0.63},{"s":"c","g":"E","t":6.5,"v":0.67},{"s":"c","g":"E","t":7.5,"v":0.66},{"s":"c","g":"E","t":8.5,"v":0.66},{"s":"c","g":"E","t":9.5,"v":0.66},{"s":"c","g":"E","t":10,"v":0.65},{"s":"c","g":"E","t":10.05,"v":0.6},{"s":"c","g":"E","t":10.1,"v":0},{"s":"c","g":"E","t":12,"v":0},
{"s":"d","g":"N","t":0,"v":0},{"s":"d","g":"N","t":2.2,"v":0},{"s":"d","g":"N","t":2.25,"v":1.15},{"s":"d","g":"N","t":2.3,"v":1.17},{"s":"d","g":"N","t":2.33,"v":2.08},{"s":"d","g":"N","t":2.6,"v":2.12},{"s":"d","g":"N","t":3.5,"v":2.13},{"s":"d","g":"N","t":4.5,"v":2.12},{"s":"d","g":"N","t":5.5,"v":2.11},{"s":"d","g":"N","t":6,"v":2.13},{"s":"d","g":"N","t":6.25,"v":2.13},{"s":"d","g":"N","t":6.28,"v":0},{"s":"d","g":"N","t":12,"v":0},
{"s":"d","g":"E","t":0,"v":0},{"s":"d","g":"E","t":2.2,"v":0},{"s":"d","g":"E","t":2.25,"v":0.55},{"s":"d","g":"E","t":2.35,"v":0.6},{"s":"d","g":"E","t":2.6,"v":0.64},{"s":"d","g":"E","t":3.5,"v":0.66},{"s":"d","g":"E","t":4.5,"v":0.65},{"s":"d","g":"E","t":5.5,"v":0.63},{"s":"d","g":"E","t":6.25,"v":0.66},{"s":"d","g":"E","t":6.28,"v":0},{"s":"d","g":"E","t":12,"v":0}]
},
"columns":2,
"spacing":{"row":3,"column":205},
"bounds":"flush",
"resolve":{"scale":{"color":"independent"},"legend":{"color":"independent"}},
"concat":[
{"width":695,"height":178,"title":{"text":"EC+LHCD discharge","dx":-14},
"layer":[
{"data":{"name":"a1"},"mark":{"type":"line","clip":true},"encoding":{"x":{"field":"t","type":"quantitative","scale":{"domain":[0,12],"nice":false},"axis":{"labels":false,"title":null}},"y":{"field":"v","type":"quantitative","scale":{"domain":[-0.46,5],"nice":false,"zero":false},"axis":{"title":"nₑₗ (10¹⁹ m⁻³)","values":[0,1,2,3,4,5]}},"color":{"field":"s","type":"nominal","scale":{"domain":["a","b","c","d"],"range":["#0000ff","#ff0000","#000000","#7e2f8e"]},"legend":null}}},
{"data":{"values":[{"t":11.27,"v":4.22,"k":"(a-1)"}]},"mark":{"type":"text"},"encoding":{"x":{"field":"t","type":"quantitative","scale":{"domain":[0,12],"nice":false},"axis":{"orient":"top","labels":false,"title":null}},"y":{"field":"v","type":"quantitative","scale":{"domain":[-0.46,5],"nice":false,"zero":false},"axis":{"orient":"right","labels":false,"title":null,"values":[0,1,2,3,4,5]}},"text":{"field":"k","type":"nominal"}}}
],"resolve":{"axis":{"x":"independent","y":"independent"}}},
{"width":695,"height":178,"title":{"text":"EC+NBI discharge","dx":-14},
"layer":[
{"data":{"name":"a2"},"mark":{"type":"line","clip":true},"encoding":{"x":{"field":"t","type":"quantitative","scale":{"domain":[0,12],"nice":false},"axis":{"labels":false,"title":null}},"y":{"field":"v","type":"quantitative","scale":{"domain":[-0.46,5],"nice":false,"zero":false},"axis":{"title":"nₑₗ (10¹⁹ m⁻³)","values":[0,1,2,3,4,5]}},"color":{"field":"s","type":"nominal","scale":{"domain":["a","b","c","d"],"range":["#0000ff","#ff0000","#000000","#7e2f8e"]},"legend":null}}},
{"data":{"values":[{"t":11.25,"v":4.25,"k":"(a-2)"}]},"mark":{"type":"text"},"encoding":{"x":{"field":"t","type":"quantitative","scale":{"domain":[0,12],"nice":false},"axis":{"orient":"top","labels":false,"title":null}},"y":{"field":"v","type":"quantitative","scale":{"domain":[-0.46,5],"nice":false,"zero":false},"axis":{"orient":"right","labels":false,"title":null,"values":[0,1,2,3,4,5]}},"text":{"field":"k","type":"nominal"}}}
],"resolve":{"axis":{"x":"independent","y":"independent"}}},
{"width":695,"height":178,
"layer":[
{"data":{"name":"b1"},"mark":{"type":"line","clip":true},"encoding":{"x":{"field":"t","type":"quantitative","scale":{"domain":[0,12],"nice":false},"axis":{"labels":false,"title":null}},"y":{"field":"v","type":"quantitative","scale":{"domain":[110,210],"nice":false,"zero":false},"axis":{"title":"Wₚ (kJ)","values":[120,140,160,180,200]}},"color":{"field":"s","type":"nominal","scale":{"domain":["a","b","c","d"],"range":["#0000ff","#ff0000","#000000","#7e2f8e"]},"legend":{"orient":"none","legendX":165,"legendY":-141,"title":null,"symbolType":"stroke","symbolSize":4900,"symbolStrokeWidth":3.5,"clipHeight":32,"rowPadding":16.6,"labelFontSize":23,"labelFontWeight":"bold","labelColor":"#000000","labelOffset":5,"padding":10,"fillColor":"#ffffff","strokeColor":"#262626","labelLimit":500,"labelExpr":"datum.value=='a'?'#158378  ρEC≈0 20°/103°':datum.value=='b'?'#158381  ρEC≈0.4 20°/90°':datum.value=='c'?'#158383  ρEC≈0.4 0°/90°':'#158384  ρEC≈0.4 -20°/90°'"}}}},
{"data":{"values":[{"t":11.27,"v":196,"k":"(b-1)"}]},"mark":{"type":"text"},"encoding":{"x":{"field":"t","type":"quantitative","scale":{"domain":[0,12],"nice":false},"axis":{"orient":"top","labels":false,"title":null}},"y":{"field":"v","type":"quantitative","scale":{"domain":[110,210],"nice":false,"zero":false},"axis":{"orient":"right","labels":false,"title":null,"values":[120,140,160,180,200]}},"text":{"field":"k","type":"nominal"}}}
],"resolve":{"axis":{"x":"independent","y":"independent"}}},
{"width":695,"height":178,
"layer":[
{"data":{"name":"b2"},"mark":{"type":"line","clip":true},"encoding":{"x":{"field":"t","type":"quantitative","scale":{"domain":[0,12],"nice":false},"axis":{"labels":false,"title":null}},"y":{"field":"v","type":"quantitative","scale":{"domain":[110,210],"nice":false,"zero":false},"axis":{"title":"Wₚ (kJ)","values":[120,140,160,180,200]}},"color":{"field":"s","type":"nominal","scale":{"domain":["a","b","c","d"],"range":["#0000ff","#ff0000","#000000","#7e2f8e"]},"legend":{"orient":"none","legendX":163,"legendY":-134,"title":null,"symbolType":"stroke","symbolSize":4900,"symbolStrokeWidth":3.5,"clipHeight":32,"rowPadding":16.6,"labelFontSize":23,"labelFontWeight":"bold","labelColor":"#000000","labelOffset":5,"padding":10,"fillColor":"#ffffff","strokeColor":"#262626","labelLimit":500,"labelExpr":"datum.value=='a'?'#158388  ρEC≈0 20°/103°':datum.value=='b'?'#158387  ρEC≈0.4 20°/90°':datum.value=='c'?'#158386  ρEC≈0.4 0°/90°':'#158385  ρEC≈0.4 -20°/90°'"}}}},
{"data":{"values":[{"t":11.25,"v":196,"k":"(b-2)"}]},"mark":{"type":"text"},"encoding":{"x":{"field":"t","type":"quantitative","scale":{"domain":[0,12],"nice":false},"axis":{"orient":"top","labels":false,"title":null}},"y":{"field":"v","type":"quantitative","scale":{"domain":[110,210],"nice":false,"zero":false},"axis":{"orient":"right","labels":false,"title":null,"values":[120,140,160,180,200]}},"text":{"field":"k","type":"nominal"}}}
],"resolve":{"axis":{"x":"independent","y":"independent"}}},
{"width":695,"height":178,
"layer":[
{"data":{"name":"c1"},"mark":{"type":"line","clip":true},"encoding":{"x":{"field":"t","type":"quantitative","scale":{"domain":[0,12],"nice":false},"axis":{"labels":false,"title":null}},"y":{"field":"v","type":"quantitative","scale":{"domain":[0.75,1.3],"nice":false,"zero":false},"axis":{"title":"li","values":[0.8,1,1.2]}},"color":{"field":"s","type":"nominal","scale":{"domain":["a","b","c","d"],"range":["#0000ff","#ff0000","#000000","#7e2f8e"]},"legend":null}}},
{"data":{"values":[{"t":11.27,"v":1.215,"k":"(c-1)"}]},"mark":{"type":"text"},"encoding":{"x":{"field":"t","type":"quantitative","scale":{"domain":[0,12],"nice":false},"axis":{"orient":"top","labels":false,"title":null}},"y":{"field":"v","type":"quantitative","scale":{"domain":[0.75,1.3],"nice":false,"zero":false},"axis":{"orient":"right","labels":false,"title":null,"values":[0.8,1,1.2]}},"text":{"field":"k","type":"nominal"}}}
],"resolve":{"axis":{"x":"independent","y":"independent"}}},
{"width":695,"height":178,
"layer":[
{"data":{"name":"c2"},"mark":{"type":"line","clip":true},"encoding":{"x":{"field":"t","type":"quantitative","scale":{"domain":[0,12],"nice":false},"axis":{"labels":false,"title":null}},"y":{"field":"v","type":"quantitative","scale":{"domain":[0.75,1.3],"nice":false,"zero":false},"axis":{"title":"li","values":[0.8,1,1.2]}},"color":{"field":"s","type":"nominal","scale":{"domain":["a","b","c","d"],"range":["#0000ff","#ff0000","#000000","#7e2f8e"]},"legend":null}}},
{"data":{"values":[{"t":11.25,"v":1.217,"k":"(c-2)"}]},"mark":{"type":"text"},"encoding":{"x":{"field":"t","type":"quantitative","scale":{"domain":[0,12],"nice":false},"axis":{"orient":"top","labels":false,"title":null}},"y":{"field":"v","type":"quantitative","scale":{"domain":[0.75,1.3],"nice":false,"zero":false},"axis":{"orient":"right","labels":false,"title":null,"values":[0.8,1,1.2]}},"text":{"field":"k","type":"nominal"}}}
],"resolve":{"axis":{"x":"independent","y":"independent"}}},
{"width":695,"height":178,
"layer":[
{"data":{"name":"d1"},"mark":{"type":"line","clip":true},"encoding":{"x":{"field":"t","type":"quantitative","scale":{"domain":[0,12],"nice":false},"axis":{"labels":false,"title":null}},"y":{"field":"v","type":"quantitative","scale":{"domain":[-0.1,0.85],"nice":false,"zero":false},"axis":{"title":"Vloop (V)","values":[0,0.2,0.4,0.6,0.8]}},"color":{"field":"s","type":"nominal","scale":{"domain":["a","b","c","d"],"range":["#0000ff","#ff0000","#000000","#7e2f8e"]},"legend":null}}},
{"data":{"values":[{"t":11.27,"v":0.708,"k":"(d-1)"}]},"mark":{"type":"text"},"encoding":{"x":{"field":"t","type":"quantitative","scale":{"domain":[0,12],"nice":false},"axis":{"orient":"top","labels":false,"title":null}},"y":{"field":"v","type":"quantitative","scale":{"domain":[-0.1,0.85],"nice":false,"zero":false},"axis":{"orient":"right","labels":false,"title":null,"values":[0,0.2,0.4,0.6,0.8]}},"text":{"field":"k","type":"nominal"}}}
],"resolve":{"axis":{"x":"independent","y":"independent"}}},
{"width":695,"height":178,
"layer":[
{"data":{"name":"d2"},"mark":{"type":"line","clip":true},"encoding":{"x":{"field":"t","type":"quantitative","scale":{"domain":[0,12],"nice":false},"axis":{"labels":false,"title":null}},"y":{"field":"v","type":"quantitative","scale":{"domain":[-0.1,0.85],"nice":false,"zero":false},"axis":{"title":"Vloop (V)","values":[0,0.2,0.4,0.6,0.8]}},"color":{"field":"s","type":"nominal","scale":{"domain":["a","b","c","d"],"range":["#0000ff","#ff0000","#000000","#7e2f8e"]},"legend":null}}},
{"data":{"values":[{"t":11.25,"v":0.708,"k":"(d-2)"}]},"mark":{"type":"text"},"encoding":{"x":{"field":"t","type":"quantitative","scale":{"domain":[0,12],"nice":false},"axis":{"orient":"top","labels":false,"title":null}},"y":{"field":"v","type":"quantitative","scale":{"domain":[-0.1,0.85],"nice":false,"zero":false},"axis":{"orient":"right","labels":false,"title":null,"values":[0,0.2,0.4,0.6,0.8]}},"text":{"field":"k","type":"nominal"}}}
],"resolve":{"axis":{"x":"independent","y":"independent"}}},
{"width":695,"height":178,
"layer":[
{"data":{"name":"e1"},"mark":{"type":"line","clip":true},"encoding":{"x":{"field":"t","type":"quantitative","scale":{"domain":[0,12],"nice":false},"axis":{"labels":false,"title":null}},"y":{"field":"v","type":"quantitative","scale":{"domain":[0,1.2],"nice":false,"zero":false},"axis":{"title":"Pᴇᴄ₄ (MW)","values":[0,0.5,1]}},"color":{"field":"s","type":"nominal","scale":{"domain":["a","b","c","d"],"range":["#0000ff","#ff0000","#000000","#7e2f8e"]},"legend":null}}},
{"data":{"values":[{"t":11.27,"v":1.01,"k":"(e-1)"}]},"mark":{"type":"text"},"encoding":{"x":{"field":"t","type":"quantitative","scale":{"domain":[0,12],"nice":false},"axis":{"orient":"top","labels":false,"title":null}},"y":{"field":"v","type":"quantitative","scale":{"domain":[0,1.2],"nice":false,"zero":false},"axis":{"orient":"right","labels":false,"title":null,"values":[0,0.5,1]}},"text":{"field":"k","type":"nominal"}}}
],"resolve":{"axis":{"x":"independent","y":"independent"}}},
{"width":695,"height":178,
"layer":[
{"data":{"name":"e2"},"mark":{"type":"line","clip":true},"encoding":{"x":{"field":"t","type":"quantitative","scale":{"domain":[0,12],"nice":false},"axis":{"labels":false,"title":null}},"y":{"field":"v","type":"quantitative","scale":{"domain":[0,1.2],"nice":false,"zero":false},"axis":{"title":"Pᴇᴄ₄ (MW)","values":[0,0.5,1]}},"color":{"field":"s","type":"nominal","scale":{"domain":["a","b","c","d"],"range":["#0000ff","#ff0000","#000000","#7e2f8e"]},"legend":null}}},
{"data":{"values":[{"t":11.25,"v":1.01,"k":"(e-2)"}]},"mark":{"type":"text"},"encoding":{"x":{"field":"t","type":"quantitative","scale":{"domain":[0,12],"nice":false},"axis":{"orient":"top","labels":false,"title":null}},"y":{"field":"v","type":"quantitative","scale":{"domain":[0,1.2],"nice":false,"zero":false},"axis":{"orient":"right","labels":false,"title":null,"values":[0,0.5,1]}},"text":{"field":"k","type":"nominal"}}}
],"resolve":{"axis":{"x":"independent","y":"independent"}}},
{"width":695,"height":178,
"layer":[
{"data":{"name":"f1"},"mark":{"type":"line","clip":true},"encoding":{"x":{"field":"t","type":"quantitative","scale":{"domain":[0,12],"nice":false},"axis":{"title":"time (s)","titlePadding":5,"values":[0,2,4,6,8,10,12]}},"y":{"field":"v","type":"quantitative","scale":{"domain":[-0.02,2.6],"nice":false,"zero":false},"axis":{"title":"Pᵢₙ (MW)","values":[0,1,2]}},"color":{"field":"s","type":"nominal","scale":{"domain":["a","b","c","d"],"range":["#0000ff","#ff0000","#000000","#7e2f8e"]},"legend":null},"detail":{"field":"g"}}},
{"data":{"values":[{"t":11.3,"v":2.18,"k":"(f-1)"},{"t":5.52,"v":1.87,"k":"LHCD"},{"t":4.91,"v":0.37,"k":"EC3"}]},"mark":{"type":"text"},"encoding":{"x":{"field":"t","type":"quantitative","scale":{"domain":[0,12],"nice":false},"axis":{"orient":"top","labels":false,"title":null}},"y":{"field":"v","type":"quantitative","scale":{"domain":[-0.02,2.6],"nice":false,"zero":false},"axis":{"orient":"right","labels":false,"title":null,"values":[0,1,2]}},"text":{"field":"k","type":"nominal"}}}
],"resolve":{"axis":{"x":"independent","y":"independent"}}},
{"width":695,"height":178,
"layer":[
{"data":{"name":"f2"},"mark":{"type":"line","clip":true},"encoding":{"x":{"field":"t","type":"quantitative","scale":{"domain":[0,12],"nice":false},"axis":{"title":"time (s)","titlePadding":5,"values":[0,2,4,6,8,10,12]}},"y":{"field":"v","type":"quantitative","scale":{"domain":[-0.02,2.6],"nice":false,"zero":false},"axis":{"title":"Pᵢₙ (MW)","values":[0,1,2]}},"color":{"field":"s","type":"nominal","scale":{"domain":["a","b","c","d"],"range":["#0000ff","#ff0000","#000000","#7e2f8e"]},"legend":null},"detail":{"field":"g"}}},
{"data":{"values":[{"t":11.28,"v":2.2,"k":"(f-2)"},{"t":3.26,"v":1.74,"k":"NBI"},{"t":3.77,"v":0.39,"k":"EC3"}]},"mark":{"type":"text"},"encoding":{"x":{"field":"t","type":"quantitative","scale":{"domain":[0,12],"nice":false},"axis":{"orient":"top","labels":false,"title":null}},"y":{"field":"v","type":"quantitative","scale":{"domain":[-0.02,2.6],"nice":false,"zero":false},"axis":{"orient":"right","labels":false,"title":null,"values":[0,1,2]}},"text":{"field":"k","type":"nominal"}}}
],"resolve":{"axis":{"x":"independent","y":"independent"}}}
],
"config":{
"font":"Liberation Sans",
"view":{"stroke":"#262626","strokeWidth":1.6},
"axis":{"grid":false,"domain":false,"tickSize":-7,"tickColor":"#262626","tickWidth":1.4,"labelFontSize":30,"labelFontWeight":"bold","labelColor":"#262626","labelPadding":19,"titleFontSize":37,"titleFontWeight":"bold","titleColor":"#262626","titlePadding":6,"format":"~r","labelFlush":false},
"axisX":{"tickCount":7},
"text":{"fontSize":33,"color":"#000000","baseline":"middle","align":"center"},
"line":{"strokeWidth":3.2},
"title":{"fontSize":39,"fontWeight":"normal","color":"#000000","offset":-23,"anchor":"middle","frame":"group"}
}
}
